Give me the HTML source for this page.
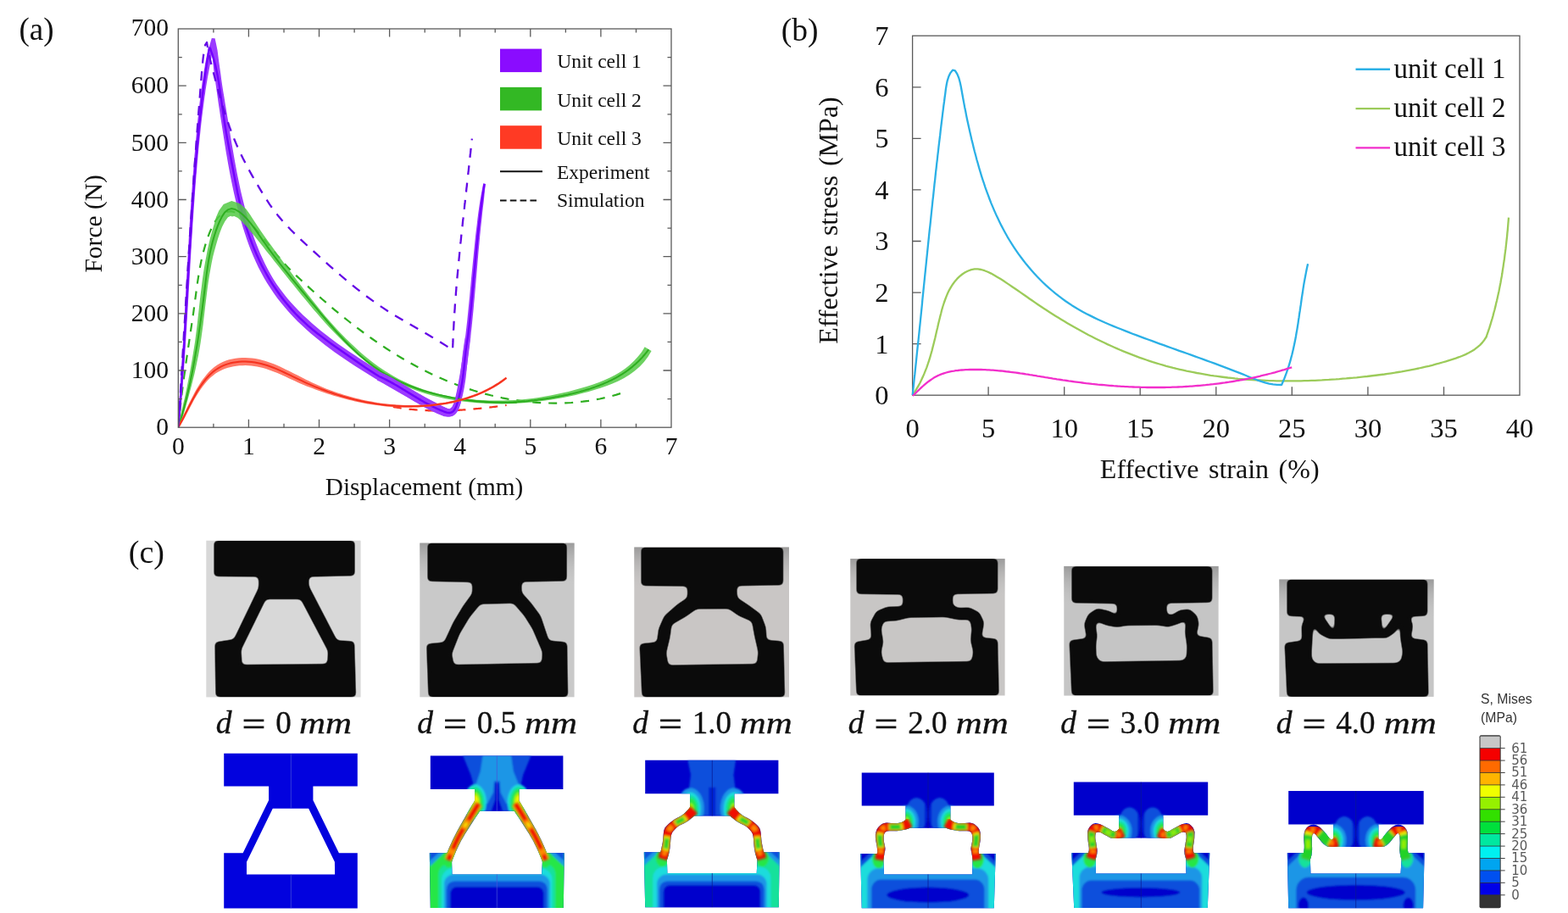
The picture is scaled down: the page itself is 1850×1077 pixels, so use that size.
<!DOCTYPE html>
<html lang="en"><head><meta charset="utf-8"><title>Figure</title>
<style>
html,body{margin:0;padding:0;background:#fff;}
body{width:1850px;height:1077px;overflow:hidden;font-family:"Liberation Serif",serif;}
svg{display:block;}
</style></head><body>
<svg width="1850" height="1077" viewBox="0 0 1850 1077">
<rect width="1850" height="1077" fill="#fff"/>
<clipPath id="clipA"><rect x="210.3" y="34.0" width="581.7" height="470.2"/></clipPath>
<g id="plotA" fill="none" stroke-linejoin="round" stroke-linecap="butt" clip-path="url(#clipA)">
<path d="M210.4 504.1L211.0 497.4L211.6 490.7L212.3 484.0L213.1 477.3L213.8 470.5L214.7 463.7L215.5 457.0L216.4 450.2L217.3 443.4L218.3 436.6L219.2 429.8L220.2 422.9L221.2 416.1L222.2 409.3L223.2 402.6L224.2 395.8L225.2 389.0L226.2 382.3L227.2 375.5L228.2 368.8L229.1 362.1L230.0 355.4L230.9 348.8L231.8 342.1L232.7 335.5L233.7 328.9L234.7 322.3L235.9 315.6L237.2 309.0L238.7 302.3L240.4 295.6L242.3 288.8L244.5 282.0L247.0 275.1L249.9 268.4L253.2 262.1L257.2 256.7L261.8 252.5L267.2 249.9L273.0 249.2L278.9 250.9L284.6 254.3L290.1 258.8L295.3 263.7L300.2 268.8L304.8 274.0L309.3 279.3L313.6 284.6L317.9 289.9L322.1 295.2L326.4 300.4L330.7 305.6L335.2 310.6L339.8 315.6L344.6 320.4L349.5 325.1L354.5 329.8L359.5 334.4L364.6 339.1L369.7 343.7L374.8 348.2L379.9 352.7L385.1 357.2L390.3 361.7L395.5 366.1L400.8 370.5L406.1 374.8L411.5 379.0L416.9 383.2L422.3 387.4L427.8 391.5L433.3 395.5L438.8 399.5L444.4 403.4L450.0 407.2L455.7 411.0L461.4 414.6L467.1 418.2L472.9 421.7L478.8 425.2L484.7 428.5L490.6 431.8L496.6 434.9L502.6 438.0L508.7 441.0L514.8 443.8L521.0 446.6L527.2 449.2L533.5 451.8L539.8 454.2L546.2 456.5L552.7 458.7L559.1 460.8L565.7 462.8L572.3 464.6L578.9 466.3L585.6 467.8L592.3 469.3L599.1 470.6L605.9 471.7L612.7 472.7L619.5 473.6L626.3 474.3L633.1 474.9L640.0 475.3L646.8 475.5L653.7 475.6L660.5 475.6L667.3 475.4L674.1 475.0L680.9 474.4L687.6 473.7L694.4 472.8L701.0 471.7L707.7 470.5L714.2 469.0L720.8 467.4L727.3 465.6L733.7 463.6" stroke="#2eae20" stroke-width="2.2" stroke-dasharray="10 9"/>
<path d="M463.8 479.9L464.9 480.1L466.0 480.3L467.1 480.5L468.2 480.7L469.4 480.8L470.5 481.0L471.6 481.2L472.7 481.4L473.8 481.5L475.0 481.7L476.1 481.8L477.2 482.0L478.3 482.1L479.4 482.3L480.6 482.4L481.7 482.5L482.8 482.7L483.9 482.8L485.0 482.9L486.2 483.0L487.3 483.1L488.4 483.2L489.5 483.3L490.7 483.4L491.8 483.5L492.9 483.6L494.0 483.7L495.2 483.7L496.3 483.8L497.4 483.9L498.5 484.0L499.7 484.0L500.8 484.1L501.9 484.1L503.0 484.2L504.2 484.2L505.3 484.3L506.4 484.3L507.5 484.3L508.7 484.4L509.8 484.4L510.9 484.4L512.1 484.4L513.2 484.4L514.3 484.5L515.4 484.5L516.6 484.5L517.7 484.5L518.8 484.5L519.9 484.5L521.1 484.5L522.2 484.4L523.3 484.4L524.5 484.4L525.6 484.4L526.7 484.4L527.8 484.3L529.0 484.3L530.1 484.3L531.2 484.2L532.4 484.2L533.5 484.1L534.6 484.1L535.7 484.1L536.9 484.0L538.0 483.9L539.1 483.9L540.3 483.8L541.4 483.8L542.5 483.7L543.6 483.6L544.8 483.6L545.9 483.5L547.0 483.4L548.1 483.3L549.3 483.3L550.4 483.2L551.5 483.1L552.7 483.0L553.8 482.9L554.9 482.8L556.0 482.7L557.2 482.6L558.3 482.5L559.4 482.4L560.5 482.3L561.7 482.2L562.8 482.1L563.9 482.0L565.0 481.9L566.2 481.8L567.3 481.7L568.4 481.6L569.5 481.4L570.7 481.3L571.8 481.2L572.9 481.1L574.0 481.0L575.2 480.8L576.3 480.7L577.4 480.6L578.5 480.4L579.6 480.3L580.8 480.2L581.9 480.0L583.0 479.9L584.1 479.8L585.2 479.6L586.4 479.5L587.5 479.4L588.6 479.2L589.7 479.1L590.8 478.9L592.0 478.8L593.1 478.6L594.2 478.5L595.3 478.3L596.4 478.2L597.6 478.0" stroke="#f5321e" stroke-width="2.2" stroke-dasharray="10 9"/>
<path d="M211.5 504.3L211.9 500.4L212.2 496.6L212.6 492.7L212.9 488.9L213.2 485.0L213.5 481.1L213.9 477.3L214.2 473.4L214.5 469.6L214.8 465.7L215.1 461.8L215.4 458.0L215.7 454.1L216.0 450.2L216.2 446.4L216.5 442.5L216.8 438.6L217.1 434.8L217.3 430.9L217.6 427.0L217.9 423.2L218.1 419.3L218.4 415.4L218.6 411.6L218.9 407.7L219.1 403.8L219.4 400.0L219.6 396.1L219.8 392.2L220.1 388.4L220.3 384.5L220.5 380.6L220.8 376.7L221.0 372.9L221.2 369.0L221.5 365.1L221.7 361.3L221.9 357.4L222.1 353.5L222.4 349.6L222.6 345.8L222.8 341.9L223.0 338.0L223.3 334.2L223.5 330.3L223.7 326.4L223.9 322.5L224.2 318.7L224.4 314.8L224.6 310.9L224.8 307.1L225.1 303.2L225.3 299.3L225.5 295.4L225.8 291.6L226.0 287.7L226.2 283.8L226.5 280.0L226.7 276.1L227.0 272.2L227.2 268.4L227.4 264.5L227.7 260.6L228.0 256.8L228.2 252.9L228.5 249.0L228.7 245.2L229.0 241.3L229.3 237.4L229.6 233.6L229.8 229.7L230.1 225.8L230.4 222.0L230.7 218.1L231.0 214.3L231.3 210.4L231.6 206.5L232.0 202.7L232.3 198.8L232.6 195.0L232.9 191.1L233.3 187.2L233.6 183.4L234.0 179.5L234.3 175.7L234.7 171.8L235.1 168.0L235.5 164.1L235.9 160.3L236.3 156.4L236.7 152.6L237.1 148.7L237.5 144.9L238.0 141.0L238.4 137.2L238.9 133.4L239.4 129.5L239.9 125.7L240.4 121.9L240.9 118.0L241.4 114.2L242.0 110.4L242.5 106.6L243.1 102.7L243.7 98.9L244.4 95.1L245.0 91.3L245.7 87.5L246.4 83.7L247.1 79.9L247.8 76.2L248.6 72.4L249.3 68.6L249.9 64.8L250.4 60.9L250.9 57.1L251.5 53.3L252.1 49.5L252.7 45.6L249.8 45.0L248.7 48.7L247.6 52.4L246.5 56.2L245.5 59.9L244.4 63.7L243.5 67.5L242.8 71.3L242.1 75.1L241.5 78.9L240.8 82.8L240.2 86.6L239.6 90.5L239.1 94.3L238.5 98.1L238.0 102.0L237.5 105.8L237.0 109.7L236.5 113.5L236.0 117.4L235.5 121.2L235.1 125.1L234.6 129.0L234.2 132.8L233.8 136.7L233.4 140.5L233.0 144.4L232.6 148.3L232.3 152.1L231.9 156.0L231.6 159.8L231.2 163.7L230.9 167.6L230.5 171.4L230.2 175.3L229.9 179.2L229.5 183.0L229.2 186.9L228.9 190.8L228.6 194.6L228.3 198.5L228.0 202.4L227.7 206.2L227.4 210.1L227.1 214.0L226.8 217.8L226.6 221.7L226.3 225.6L226.0 229.4L225.8 233.3L225.5 237.2L225.2 241.0L225.0 244.9L224.7 248.8L224.5 252.7L224.2 256.5L224.0 260.4L223.7 264.3L223.5 268.1L223.3 272.0L223.0 275.9L222.8 279.8L222.6 283.6L222.4 287.5L222.1 291.4L221.9 295.2L221.7 299.1L221.5 303.0L221.3 306.9L221.1 310.7L220.8 314.6L220.6 318.5L220.4 322.3L220.2 326.2L220.0 330.1L219.8 334.0L219.6 337.8L219.4 341.7L219.2 345.6L219.0 349.5L218.8 353.3L218.5 357.2L218.3 361.1L218.1 364.9L217.9 368.8L217.7 372.7L217.5 376.5L217.3 380.4L217.1 384.3L216.8 388.2L216.6 392.0L216.4 395.9L216.2 399.8L216.0 403.6L215.7 407.5L215.5 411.4L215.3 415.2L215.0 419.1L214.8 423.0L214.6 426.8L214.3 430.7L214.1 434.6L213.8 438.4L213.6 442.3L213.3 446.2L213.1 450.0L212.8 453.9L212.5 457.8L212.3 461.6L212.0 465.5L211.7 469.3L211.4 473.2L211.1 477.1L210.8 480.9L210.5 484.8L210.2 488.6L209.9 492.5L209.6 496.4L209.3 500.2L208.9 504.1Z" fill="#9b3bff" fill-opacity="1.00" stroke="none"/>
<path d="M250.6 45.5L250.2 52.6L250.1 59.7L250.6 66.8L251.3 73.9L252.0 80.9L252.9 87.9L253.9 94.9L254.9 101.9L255.9 108.9L256.9 115.9L257.9 122.9L259.0 129.9L260.0 136.9L261.1 143.8L262.2 150.8L263.3 157.8L264.4 164.7L265.5 171.7L266.6 178.7L267.8 185.6L269.0 192.6L270.3 199.5L271.6 206.5L273.0 213.4L274.4 220.3L275.9 227.3L277.5 234.2L279.1 241.1L280.9 248.0L282.7 254.8L284.7 261.7L286.7 268.5L288.9 275.3L291.1 282.1L293.6 288.9L296.1 295.6L298.9 302.2L301.8 308.8L304.8 315.2L308.1 321.6L311.6 327.9L315.2 334.1L319.1 340.1L323.1 346.1L327.4 351.9L331.8 357.6L336.4 363.1L341.1 368.5L346.0 373.7L351.0 378.9L356.2 383.8L361.5 388.7L366.8 393.4L372.3 398.0L377.9 402.5L383.5 406.9L389.2 411.2L394.9 415.4L400.7 419.5L406.6 423.6L412.5 427.5L418.5 431.4L424.5 435.2L430.5 439.0L436.5 442.7L442.5 446.4L448.6 450.0L454.7 453.7L460.7 457.2L466.8 460.8L472.9 464.3L479.1 467.8L485.2 471.3L491.4 474.7L497.6 478.1L503.9 481.4L510.2 484.7L516.6 488.0L524.1 491.2L533.4 491.1L540.4 484.4L543.3 476.5L544.7 469.3L546.0 462.3L547.3 455.3L548.4 448.3L549.5 441.3L550.6 434.3L551.6 427.3L552.5 420.3L553.4 413.3L554.3 406.3L555.1 399.3L555.8 392.3L556.6 385.3L557.3 378.2L558.0 371.2L558.7 364.2L559.3 357.2L560.0 350.1L560.6 343.1L561.2 336.1L561.8 329.0L562.4 322.0L563.0 315.0L563.6 308.0L564.2 301.0L564.8 293.9L565.5 286.9L566.1 279.9L566.8 272.9L567.5 265.9L568.3 258.9L569.0 251.9L569.8 244.9L570.7 237.9L571.4 231.0L572.1 224.0L572.9 216.9L570.2 216.5L568.8 223.4L567.5 230.4L566.3 237.4L565.3 244.3L564.3 251.3L563.4 258.3L562.6 265.4L561.7 272.4L560.9 279.4L560.2 286.4L559.5 293.4L558.8 300.4L558.1 307.5L557.4 314.5L556.7 321.5L556.0 328.5L555.4 335.6L554.7 342.6L554.1 349.6L553.4 356.6L552.7 363.6L552.0 370.6L551.3 377.6L550.5 384.6L549.7 391.6L548.9 398.6L548.0 405.5L547.0 412.5L546.1 419.4L545.0 426.4L543.9 433.3L542.8 440.2L541.6 447.1L540.3 454.0L539.0 460.9L537.5 467.8L536.0 474.3L533.6 479.8L530.3 482.6L526.7 481.6L521.1 478.8L515.0 475.5L508.8 472.2L502.6 468.9L496.4 465.6L490.3 462.2L484.2 458.7L478.1 455.3L472.0 451.8L466.0 448.3L460.0 444.7L453.9 441.1L447.9 437.5L441.9 433.8L436.0 430.2L430.0 426.4L424.1 422.7L418.2 418.8L412.4 415.0L406.6 411.0L400.8 407.1L395.2 403.0L389.6 398.8L384.1 394.6L378.6 390.3L373.3 385.8L368.0 381.3L362.9 376.6L357.9 371.9L352.9 367.0L348.1 362.0L343.5 356.9L338.9 351.7L334.6 346.3L330.4 340.8L326.4 335.2L322.7 329.5L319.2 323.5L315.9 317.5L312.7 311.3L309.8 305.1L306.9 298.7L304.3 292.3L301.7 285.8L299.3 279.3L297.1 272.6L294.9 266.0L292.9 259.3L291.0 252.5L289.1 245.8L287.4 239.0L285.7 232.2L284.1 225.4L282.6 218.6L281.2 211.7L279.8 204.9L278.5 198.0L277.2 191.1L276.0 184.2L274.8 177.3L273.6 170.4L272.4 163.4L271.3 156.5L270.2 149.5L269.1 142.6L267.9 135.6L266.8 128.7L265.6 121.7L264.5 114.8L263.3 107.8L262.2 100.8L261.2 93.9L260.3 86.9L259.3 80.0L258.3 73.0L257.4 66.1L256.5 59.1L255.1 52.2L253.6 45.3Z" fill="#9b3bff" fill-opacity="1.00" stroke="none"/>
<path d="M210.3 504.2L210.6 500.4L210.9 496.7L211.2 492.9L211.5 489.2L211.8 485.4L212.1 481.6L212.4 477.9L212.7 474.1L212.9 470.3L213.2 466.6L213.5 462.8L213.8 459.1L214.0 455.3L214.3 451.5L214.5 447.8L214.8 444.0L215.1 440.2L215.3 436.5L215.6 432.7L215.8 428.9L216.0 425.2L216.3 421.4L216.5 417.6L216.8 413.9L217.0 410.1L217.2 406.3L217.5 402.6L217.7 398.8L217.9 395.0L218.1 391.2L218.4 387.5L218.6 383.7L218.8 379.9L219.0 376.2L219.3 372.4L219.5 368.6L219.7 364.9L219.9 361.1L220.1 357.3L220.3 353.5L220.6 349.8L220.8 346.0L221.0 342.2L221.2 338.5L221.4 334.7L221.7 330.9L221.9 327.2L222.1 323.4L222.3 319.6L222.5 315.8L222.8 312.1L223.0 308.3L223.2 304.5L223.4 300.8L223.7 297.0L223.9 293.2L224.1 289.5L224.3 285.7L224.6 281.9L224.8 278.2L225.1 274.4L225.3 270.6L225.5 266.8L225.8 263.1L226.0 259.3L226.3 255.5L226.5 251.8L226.8 248.0L227.0 244.2L227.3 240.5L227.6 236.7L227.8 232.9L228.1 229.2L228.4 225.4L228.7 221.6L228.9 217.9L229.2 214.1L229.5 210.4L229.8 206.6L230.1 202.8L230.4 199.1L230.7 195.3L231.0 191.5L231.4 187.8L231.7 184.0L232.0 180.3L232.3 176.5L232.7 172.7L233.0 169.0L233.4 165.2L233.7 161.5L234.1 157.7L234.4 154.0L234.8 150.2L235.2 146.5L235.6 142.7L236.0 138.9L236.4 135.2L236.8 131.4L237.2 127.7L237.6 123.9L238.0 120.2L238.5 116.4L238.9 112.7L239.4 109.0L239.9 105.2L240.3 101.5L240.8 97.7L241.3 94.0L241.8 90.3L242.3 86.5L242.8 82.8L243.4 79.0L243.9 75.3L244.5 71.6L245.1 67.9L245.6 64.1L246.2 60.4L246.8 56.7L247.9 56.7L250.2 63.3L252.2 69.9L254.0 76.6L255.5 83.4L256.9 90.2L258.1 97.0L259.1 103.9L260.1 110.8L261.1 117.7L262.0 124.6L263.0 131.5L264.0 138.4L265.0 145.3L266.2 152.2L267.3 159.1L268.6 165.9L269.8 172.8L271.1 179.6L272.4 186.5L273.7 193.3L275.0 200.1L276.3 207.0L277.6 213.8L279.0 220.6L280.3 227.4L281.8 234.2L283.3 241.0L284.9 247.7L286.6 254.4L288.5 261.1L290.5 267.8L292.7 274.4L295.0 281.0L297.5 287.6L300.1 294.1L302.9 300.5L305.8 306.8L308.9 313.1L312.2 319.3L315.6 325.4L319.1 331.4L322.9 337.3L326.8 343.0L330.8 348.7L335.0 354.2L339.4 359.6L343.9 364.9L348.6 370.0L353.4 374.9L358.5 379.7L363.6 384.3L368.9 388.8L374.3 393.2L379.9 397.4L385.5 401.6L391.1 405.7L396.8 409.7L402.6 413.8L408.3 417.8L414.1 421.8L419.8 425.8L425.6 429.7L431.3 433.7L437.1 437.5L442.9 441.3L448.8 444.9L454.8 448.4L460.8 451.8L466.9 455.0L473.0 458.3L479.1 461.5L485.3 464.8L491.4 468.0L497.6 471.4L503.7 474.8L509.8 478.4L515.9 482.1L522.1 485.5L528.6 487.1L534.6 484.7L538.5 479.2L540.3 472.5L541.7 465.6L543.0 458.8L544.3 451.9L545.5 445.0L546.6 438.1L547.7 431.2L548.7 424.3L549.6 417.4L550.5 410.5L551.4 403.6L552.2 396.7L553.0 389.7L553.8 382.8L554.5 375.9L555.2 369.0L555.9 362.0L556.5 355.1L557.2 348.2L557.8 341.3L558.4 334.3L559.0 327.4L559.7 320.5L560.3 313.6L560.9 306.6L561.6 299.7L562.2 292.8L562.9 285.8L563.6 278.9L564.3 272.0L565.1 265.1L565.9 258.2L566.7 251.2L567.6 244.3L568.5 237.4L569.5 230.5L570.5 223.6L571.6 216.7" stroke="#7200ff" stroke-width="2.4"/>
<path d="M211.7 504.5L213.9 497.6L216.0 490.7L218.1 483.6L220.1 476.6L222.1 469.5L224.0 462.3L225.9 455.2L227.7 448.0L229.5 440.8L231.1 433.5L232.6 426.2L234.1 418.9L235.4 411.7L236.6 404.4L237.7 397.1L238.7 389.8L239.7 382.6L240.5 375.3L241.4 368.1L242.2 360.9L243.1 353.7L244.0 346.5L244.9 339.3L245.9 332.1L247.0 324.9L248.3 317.7L249.6 310.5L251.1 303.3L252.9 296.2L254.9 289.0L257.0 281.8L259.4 274.6L262.1 267.4L265.5 261.0L269.0 256.2L272.2 254.7L273.6 255.5L276.4 255.1L280.6 257.1L285.6 261.4L290.7 267.1L295.6 273.0L300.5 278.8L305.3 284.7L309.9 290.5L314.5 296.4L319.1 302.1L323.6 307.9L328.1 313.6L332.6 319.3L337.2 325.0L341.7 330.7L346.3 336.3L350.9 342.0L355.5 347.7L360.2 353.3L364.9 359.0L369.6 364.7L374.5 370.3L379.4 375.9L384.3 381.4L389.3 386.9L394.4 392.3L399.6 397.6L404.8 402.8L410.2 408.0L415.6 413.0L421.1 417.9L426.7 422.6L432.4 427.2L438.3 431.6L444.2 435.9L450.3 440.0L456.5 443.8L462.8 447.5L469.3 451.0L475.9 454.2L482.6 457.2L489.5 459.9L496.5 462.4L503.6 464.7L510.7 466.7L518.0 468.5L525.4 470.2L532.8 471.5L540.2 472.7L547.7 473.8L555.1 474.6L562.6 475.3L570.1 475.8L577.6 476.1L585.0 476.3L592.3 476.4L599.7 476.2L607.0 476.0L614.3 475.6L621.5 475.0L628.7 474.4L635.9 473.5L643.2 472.6L650.4 471.5L657.6 470.3L664.8 469.0L672.0 467.5L679.3 465.9L686.5 464.1L693.8 462.2L701.1 460.1L708.4 457.8L715.6 455.3L722.7 452.5L729.6 449.4L736.3 445.9L742.8 442.0L748.9 437.6L754.7 432.6L759.9 426.9L764.6 420.7L768.6 414.0L760.7 409.2L756.9 415.4L752.6 420.8L748.0 425.8L743.0 430.4L737.7 434.7L731.9 438.7L725.9 442.3L719.5 445.6L712.9 448.6L706.1 451.3L699.1 453.8L692.0 456.0L684.9 458.1L677.8 460.1L670.7 461.9L663.6 463.6L656.6 465.1L649.5 466.6L642.4 467.8L635.3 469.0L628.2 470.0L621.1 470.8L614.0 471.5L606.8 472.0L599.6 472.3L592.3 472.5L585.0 472.5L577.7 472.4L570.3 472.1L562.9 471.7L555.5 471.0L548.1 470.2L540.7 469.2L533.4 468.0L526.1 466.5L518.9 464.9L511.7 463.1L504.7 461.0L497.7 458.7L490.9 456.3L484.1 453.5L477.6 450.6L471.1 447.4L464.8 444.0L458.6 440.3L452.6 436.5L446.6 432.4L440.8 428.2L435.1 423.8L429.5 419.2L424.0 414.5L418.7 409.6L413.4 404.6L408.2 399.5L403.1 394.2L398.0 388.9L393.1 383.5L388.2 378.0L383.4 372.4L378.7 366.7L374.1 361.0L369.5 355.3L364.9 349.5L360.4 343.7L356.0 338.0L351.5 332.2L347.2 326.4L342.8 320.6L338.5 314.8L334.1 309.0L329.8 303.1L325.5 297.2L321.2 291.3L316.8 285.3L312.5 279.2L308.1 273.1L303.9 266.8L299.6 260.3L295.3 253.6L290.3 246.5L283.2 240.3L273.3 236.9L263.7 241.1L258.3 248.4L255.0 256.1L252.8 264.1L250.5 271.8L248.4 279.3L246.6 286.8L244.9 294.3L243.5 301.7L242.1 309.1L240.8 316.5L239.7 323.8L238.7 331.1L237.8 338.4L236.9 345.6L236.0 352.8L235.2 360.1L234.4 367.3L233.6 374.5L232.8 381.7L231.9 388.9L231.0 396.1L230.0 403.4L228.9 410.6L227.7 417.8L226.5 425.1L225.2 432.3L223.9 439.6L222.5 446.8L221.1 454.1L219.6 461.3L218.1 468.5L216.4 475.6L214.7 482.7L213.0 489.8L211.2 496.8L209.4 503.8Z" fill="#52c944" fill-opacity="0.85" stroke="none"/>
<path d="M210.4 504.1L212.2 498.6L213.8 493.0L215.4 487.3L217.0 481.7L218.4 476.0L219.9 470.3L221.3 464.6L222.6 458.8L223.9 453.1L225.1 447.3L226.3 441.5L227.4 435.7L228.5 429.9L229.6 424.1L230.6 418.2L231.6 412.4L232.6 406.6L233.5 400.7L234.4 394.9L235.2 389.0L236.1 383.2L236.9 377.3L237.7 371.5L238.5 365.7L239.2 359.8L240.0 354.0L240.7 348.2L241.4 342.4L242.1 336.7L242.8 330.9L243.5 325.2L244.3 319.4L245.1 313.7L246.0 307.9L247.0 302.1L248.2 296.3L249.5 290.5L251.0 284.6L252.7 278.7L254.6 272.7L256.8 266.7L259.3 260.7L262.1 255.1L265.2 250.5L268.8 247.4L272.9 246.1L277.4 247.0L282.2 249.8L287.0 253.7L291.5 258.4L295.7 263.3L299.4 268.2L302.9 273.1L306.2 278.0L309.5 282.8L312.9 287.5L316.3 292.3L319.7 297.0L323.2 301.7L326.8 306.3L330.3 311.0L333.9 315.6L337.6 320.2L341.2 324.7L344.9 329.3L348.6 333.9L352.3 338.4L356.1 343.0L359.9 347.5L363.6 352.1L367.4 356.6L371.2 361.2L375.0 365.7L378.8 370.3L382.7 374.9L386.5 379.4L390.4 383.9L394.3 388.4L398.3 392.8L402.3 397.2L406.3 401.5L410.4 405.7L414.6 409.9L418.8 413.9L423.1 417.9L427.5 421.7L432.0 425.5L436.6 429.1L441.3 432.5L446.1 435.8L450.9 439.0L455.9 442.0L461.0 444.8L466.2 447.5L471.5 450.1L476.9 452.5L482.3 454.7L487.8 456.8L493.4 458.8L499.0 460.7L504.7 462.4L510.5 464.0L516.3 465.4L522.1 466.8L527.9 468.0L533.8 469.2L539.7 470.2L545.6 471.1L551.5 471.9L557.4 472.6L563.3 473.2L569.2 473.7L575.1 474.1L581.0 474.4L586.8 474.6L592.6 474.8L598.3 474.9L604.0 474.9L609.7 474.8" stroke="#2eae20" stroke-width="2.0"/>
<path d="M444.8 448.6L446.2 449.2L447.6 449.8L449.0 450.5L450.4 451.2L451.8 451.8L453.2 452.5L454.5 453.2L455.9 454.0L457.3 454.7L458.7 455.4L460.0 456.2L461.4 456.9L462.8 457.7L464.1 458.5L465.5 459.3L466.8 460.1L468.2 460.9L469.6 461.7L470.9 462.5L472.3 463.3L473.6 464.2L475.0 465.0L476.3 465.8L477.7 466.7L479.1 467.5L480.4 468.3L481.8 469.2L483.2 470.0L484.5 470.9L485.9 471.7L487.3 472.5L488.7 473.4L490.1 474.2L491.5 475.0L492.9 475.8L494.3 476.7L495.7 477.5L497.1 478.3L498.5 479.1L499.9 479.9L501.3 480.7L502.8 481.4L504.2 482.2L505.7 483.0L507.1 483.7L508.6 484.5L510.1 485.2L511.6 485.9L513.1 486.6L514.6 487.2L516.1 487.9L517.7 488.5L519.2 489.1L520.8 489.7L522.4 490.3L524.0 490.8L525.9 491.3L527.9 491.7L530.2 491.7L532.4 491.3L534.6 490.5L536.5 489.3L538.1 487.8L539.3 486.1L540.3 484.4L541.2 482.5L541.9 480.7L542.6 478.8L543.1 476.9L543.6 475.0L544.1 473.2L544.6 471.4L545.0 469.6L545.5 467.9L545.9 466.2L546.3 464.6L546.6 462.9L547.0 461.3L547.3 459.7L547.6 458.1L547.9 456.5L548.1 454.9L548.4 453.4L548.6 451.9L548.9 450.4L549.1 448.9L549.3 447.4L549.5 445.9L549.7 444.4L549.8 443.0L550.0 441.5L550.2 440.1L550.3 438.6L550.5 437.2L550.6 435.7L550.7 434.3L550.9 432.8L551.0 431.4L551.2 429.9L551.3 428.4L551.4 427.0L551.6 425.5L551.7 424.0L551.9 422.5L552.0 421.0L552.2 419.4L552.4 417.9L552.5 416.3L552.7 414.7L552.9 413.1L553.1 411.5L553.3 409.9L553.5 408.2L553.8 406.5L554.0 404.8L554.3 403.0L554.6 401.2L554.9 399.4L555.2 397.5L549.1 396.4L548.8 398.3L548.4 400.2L548.1 402.0L547.8 403.8L547.5 405.5L547.3 407.3L547.0 409.0L546.8 410.7L546.6 412.3L546.3 413.9L546.1 415.6L545.9 417.1L545.7 418.7L545.5 420.3L545.4 421.8L545.2 423.3L545.0 424.8L544.9 426.3L544.7 427.8L544.5 429.2L544.4 430.7L544.2 432.1L544.1 433.6L543.9 435.0L543.7 436.4L543.6 437.9L543.4 439.3L543.2 440.7L543.0 442.1L542.8 443.5L542.6 445.0L542.4 446.4L542.2 447.8L542.0 449.3L541.7 450.7L541.4 452.2L541.2 453.7L540.9 455.2L540.6 456.7L540.3 458.2L539.9 459.8L539.6 461.3L539.2 462.9L538.8 464.5L538.4 466.1L537.9 467.8L537.5 469.5L537.0 471.2L536.5 472.9L535.9 474.6L535.3 476.2L534.6 477.7L534.0 479.1L533.3 480.3L532.6 481.2L531.9 481.9L531.4 482.2L530.9 482.4L530.5 482.4L530.0 482.3L529.3 482.2L528.4 481.9L527.2 481.4L525.9 480.9L524.5 480.3L523.0 479.7L521.6 479.1L520.2 478.5L518.8 477.8L517.4 477.2L516.0 476.5L514.6 475.8L513.2 475.1L511.8 474.4L510.5 473.7L509.1 473.0L507.7 472.3L506.3 471.5L504.9 470.8L503.6 470.0L502.2 469.3L500.8 468.5L499.5 467.7L498.1 466.9L496.8 466.1L495.4 465.3L494.0 464.5L492.7 463.6L491.3 462.8L490.0 462.0L488.6 461.1L487.2 460.3L485.9 459.5L484.5 458.6L483.1 457.8L481.8 457.0L480.4 456.1L479.0 455.3L477.7 454.4L476.3 453.6L474.9 452.8L473.5 451.9L472.1 451.1L470.7 450.3L469.3 449.5L467.9 448.7L466.5 447.9L465.1 447.1L463.6 446.3L462.2 445.5L460.8 444.8L459.3 444.0L457.9 443.3L456.4 442.5L454.9 441.8L453.5 441.1L452.0 440.4L450.5 439.7L449.0 439.1Z" fill="#9b3bff" fill-opacity="1.00" stroke="none"/>
<path d="M446.9 443.8L448.3 444.5L449.8 445.1L451.2 445.8L452.7 446.5L454.1 447.2L455.5 447.9L456.9 448.6L458.3 449.4L459.8 450.1L461.2 450.9L462.5 451.6L463.9 452.4L465.3 453.2L466.7 454.0L468.1 454.8L469.5 455.6L470.8 456.4L472.2 457.2L473.6 458.1L475.0 458.9L476.3 459.7L477.7 460.5L479.1 461.4L480.4 462.2L481.8 463.1L483.2 463.9L484.5 464.7L485.9 465.6L487.3 466.4L488.6 467.2L490.0 468.1L491.4 468.9L492.7 469.7L494.1 470.6L495.5 471.4L496.9 472.2L498.3 473.0L499.6 473.8L501.0 474.6L502.4 475.3L503.8 476.1L505.2 476.9L506.7 477.6L508.1 478.4L509.5 479.1L510.9 479.8L512.4 480.5L513.8 481.2L515.3 481.9L516.7 482.5L518.2 483.2L519.6 483.8L521.1 484.4L522.6 485.0L524.1 485.6L525.6 486.1L527.1 486.6L528.6 486.9L530.1 487.0L531.4 486.9L532.7 486.4L533.9 485.8L535.0 484.8L535.9 483.7L536.8 482.3L537.6 480.8L538.3 479.2L538.9 477.5L539.5 475.7L540.0 473.9L540.5 472.2L541.0 470.4L541.5 468.7L541.9 467.0L542.3 465.4L542.7 463.7L543.1 462.1L543.4 460.5L543.8 458.9L544.1 457.4L544.4 455.8L544.7 454.3L544.9 452.8L545.2 451.3L545.4 449.8L545.6 448.4L545.8 446.9L546.1 445.4L546.2 444.0L546.4 442.5L546.6 441.1L546.8 439.7L546.9 438.2L547.1 436.8L547.3 435.4L547.4 433.9L547.6 432.5L547.7 431.0L547.9 429.6L548.0 428.1L548.2 426.6L548.3 425.1L548.5 423.6L548.6 422.1L548.8 420.6L549.0 419.1L549.1 417.5L549.3 415.9L549.5 414.3L549.7 412.7L549.9 411.1L550.2 409.4L550.4 407.7L550.7 406.0L550.9 404.3L551.2 402.5L551.5 400.7L551.8 398.9L552.2 397.0" stroke="#7200ff" stroke-width="2.4"/>
<path d="M540.4 470.3L542.4 470.7L544.4 471.0L546.3 471.4L548.3 471.7L550.3 472.0L552.3 472.3L554.3 472.5L556.3 472.8L558.3 473.0L560.3 473.2L562.4 473.4L564.4 473.6L566.4 473.8L568.4 474.0L570.4 474.1L572.4 474.2L574.4 474.4L576.5 474.5L578.5 474.6L580.5 474.6L582.5 474.7L584.6 474.7L586.6 474.8L588.6 474.8L590.6 474.8L592.7 474.8L594.7 474.7L596.7 474.7L598.8 474.7L600.8 474.6L602.8 474.5L604.9 474.4L606.9 474.3L609.0 474.2L611.0 474.1L613.0 473.9L615.1 473.8L617.1 473.6L619.1 473.4L621.2 473.3L623.2 473.1L625.3 472.8L627.3 472.6L629.3 472.4L631.4 472.1L633.4 471.9L635.5 471.6L637.5 471.3L639.5 471.0L641.6 470.7L643.6 470.4L645.7 470.1L647.7 469.8L649.7 469.4L651.8 469.1L653.8 468.7L655.8 468.3L657.9 468.0L659.9 467.6L661.9 467.2L664.0 466.8L666.0 466.3L668.0 465.9L670.1 465.5L672.1 465.0L674.1 464.6L676.1 464.1L678.1 463.6L680.1 463.1L682.1 462.6L684.1 462.1L686.1 461.5L688.1 461.0L690.1 460.4L692.0 459.8L694.0 459.2L696.0 458.6L697.9 457.9L699.8 457.3L701.8 456.6L703.7 455.9L705.6 455.2L707.5 454.5L709.4 453.7L711.3 453.0L713.1 452.2L715.0 451.4L716.8 450.6L718.6 449.7L720.5 448.8L722.3 448.0L724.0 447.0L725.8 446.1L727.6 445.1L729.3 444.2L731.0 443.1L732.7 442.1L734.4 441.1L736.1 440.0L737.8 438.9L739.4 437.7L741.0 436.6L742.6 435.4L744.2 434.1L745.8 432.9L747.3 431.6L748.8 430.3L750.3 429.0L751.8 427.6L753.2 426.2L754.7 424.8L756.1 423.3L757.5 421.9L758.8 420.3L760.2 418.8L761.5 417.2L762.8 415.6L764.1 413.9L765.3 412.3" stroke="#2eae20" stroke-width="2.0"/>
<path d="M211.3 504.4L213.1 501.6L214.8 498.6L216.5 495.5L218.2 492.3L219.9 489.0L221.6 485.7L223.4 482.3L225.1 478.9L227.0 475.5L228.8 472.1L230.7 468.7L232.7 465.4L234.8 462.2L236.9 459.0L239.1 455.9L241.4 453.0L243.7 450.2L246.2 447.6L248.8 445.1L251.4 442.9L254.1 440.8L256.9 439.0L259.8 437.4L262.8 435.9L265.9 434.7L269.0 433.7L272.3 432.9L275.6 432.2L279.0 431.7L282.5 431.3L286.0 431.2L289.5 431.1L293.0 431.2L296.5 431.5L300.0 432.0L303.5 432.6L306.9 433.3L310.3 434.1L313.7 435.1L317.1 436.2L320.5 437.5L323.9 438.7L327.3 440.1L330.7 441.6L334.0 443.1L337.4 444.6L340.8 446.2L344.2 447.7L347.6 449.3L351.1 450.9L354.5 452.5L358.1 454.0L361.6 455.4L365.1 456.8L368.7 458.1L372.2 459.4L375.8 460.7L379.3 461.9L382.9 463.2L386.5 464.4L390.0 465.6L393.6 466.7L397.2 467.8L400.8 468.8L404.4 469.8L408.0 470.8L411.7 471.7L415.3 472.6L418.9 473.5L422.6 474.3L426.2 475.0L429.9 475.7L433.6 476.4L437.2 477.0L440.9 477.6L444.6 478.1L448.3 478.6L452.0 479.0L455.6 479.4L459.3 479.7L463.0 480.0L466.8 480.3L470.5 480.5L474.2 480.6L477.9 480.7L481.6 480.7L485.3 480.7L489.0 480.6L492.8 480.5L496.5 480.3L500.2 480.1L504.0 479.8L507.7 479.5L511.4 479.1L515.1 478.6L518.9 478.1L522.6 477.6L526.3 476.9L530.0 476.3L533.7 475.5L537.4 474.7L541.1 473.8L544.7 472.8L548.3 471.8L551.9 470.7L555.5 469.5L559.1 468.3L562.6 467.0L566.0 465.6L569.5 464.1L572.9 462.5L576.2 460.8L579.5 459.1L582.8 457.3L586.0 455.4L589.2 453.3L592.3 451.2L595.3 449.0L598.2 446.8L596.7 444.7L593.7 447.0L590.8 449.1L587.7 451.2L584.6 453.1L581.5 455.0L578.3 456.8L575.1 458.5L571.8 460.1L568.4 461.7L565.0 463.2L561.6 464.5L558.2 465.8L554.7 467.1L551.2 468.2L547.6 469.3L544.0 470.3L540.4 471.3L536.8 472.2L533.2 473.0L529.5 473.7L525.9 474.4L522.2 475.0L518.5 475.6L514.8 476.1L511.1 476.5L507.4 476.9L503.7 477.2L500.0 477.4L496.4 477.6L492.7 477.8L489.0 477.9L485.3 477.9L481.6 477.9L477.9 477.9L474.3 477.7L470.6 477.5L466.9 477.3L463.3 477.0L459.6 476.7L456.0 476.3L452.3 475.9L448.7 475.4L445.1 474.9L441.4 474.3L437.8 473.6L434.2 472.9L430.6 472.2L427.0 471.4L423.4 470.6L419.8 469.7L416.3 468.8L412.7 467.8L409.2 466.8L405.6 465.7L402.1 464.6L398.6 463.4L395.1 462.2L391.6 461.0L388.1 459.7L384.6 458.4L381.2 457.1L377.8 455.6L374.4 454.1L371.0 452.5L367.6 451.0L364.2 449.3L360.9 447.7L357.6 446.0L354.2 444.3L350.9 442.6L347.5 440.9L344.2 439.2L340.8 437.5L337.4 435.9L334.0 434.2L330.5 432.6L327.1 431.1L323.6 429.6L320.0 428.2L316.4 426.9L312.7 425.8L309.0 424.7L305.2 423.8L301.4 423.1L297.5 422.5L293.6 422.2L289.6 422.0L285.7 422.0L281.7 422.2L277.8 422.7L273.9 423.4L270.1 424.3L266.4 425.6L262.7 427.1L259.3 428.8L255.9 430.8L252.8 433.0L249.9 435.5L247.1 438.1L244.5 440.9L242.1 443.9L239.7 446.9L237.5 450.1L235.3 453.4L233.3 456.7L231.3 460.1L229.4 463.5L227.6 467.0L225.8 470.5L224.0 474.0L222.3 477.5L220.6 480.9L219.0 484.4L217.4 487.7L215.7 491.0L214.1 494.3L212.5 497.4L210.9 500.3L209.3 503.2Z" fill="#ff6a58" fill-opacity="0.90" stroke="none"/>
<path d="M210.3 503.8L212.0 501.0L213.6 498.0L215.3 494.9L217.0 491.7L218.6 488.4L220.3 485.0L222.0 481.6L223.7 478.2L225.5 474.7L227.3 471.3L229.2 467.9L231.1 464.5L233.0 461.1L235.1 457.8L237.2 454.7L239.4 451.6L241.7 448.6L244.1 445.7L246.6 443.0L249.3 440.5L252.0 438.1L254.9 436.0L257.9 434.1L261.0 432.4L264.3 430.9L267.7 429.6L271.2 428.6L274.8 427.8L278.4 427.2L282.1 426.8L285.8 426.6L289.6 426.5L293.3 426.7L297.0 427.0L300.7 427.5L304.4 428.2L308.0 429.0L311.5 430.0L315.1 431.0L318.6 432.2L322.0 433.5L325.5 434.9L328.9 436.4L332.3 437.9L335.7 439.5L339.1 441.1L342.5 442.7L345.9 444.3L349.3 446.0L352.7 447.6L356.1 449.2L359.5 450.8L362.9 452.4L366.4 453.9L369.8 455.3L373.3 456.8L376.8 458.1L380.3 459.5L383.8 460.8L387.3 462.1L390.8 463.3L394.3 464.5L397.9 465.6L401.5 466.7L405.0 467.8L408.6 468.8L412.2 469.8L415.8 470.7L419.4 471.6L423.0 472.4L426.6 473.2L430.2 474.0L433.9 474.7L437.5 475.3L441.2 475.9L444.8 476.5L448.5 477.0L452.1 477.4L455.8 477.9L459.5 478.2L463.2 478.5L466.8 478.8L470.5 479.0L474.2 479.2L477.9 479.3L481.6 479.3L485.3 479.3L489.0 479.3L492.7 479.2L496.4 479.0L500.1 478.8L503.8 478.5L507.6 478.2L511.3 477.8L515.0 477.3L518.7 476.8L522.4 476.3L526.1 475.7L529.8 475.0L533.4 474.2L537.1 473.4L540.7 472.5L544.4 471.6L548.0 470.6L551.6 469.5L555.1 468.3L558.6 467.1L562.1 465.8L565.5 464.4L569.0 462.9L572.3 461.3L575.6 459.7L578.9 458.0L582.2 456.1L585.3 454.2L588.4 452.3L591.5 450.2L594.5 448.0L597.5 445.7" stroke="#f5321e" stroke-width="2.0"/>
<path d="M210.3 504.2L210.8 496.3L211.3 488.4L211.8 480.5L212.3 472.5L212.8 464.6L213.2 456.7L213.7 448.8L214.2 440.9L214.7 433.0L215.1 425.1L215.6 417.1L216.1 409.2L216.6 401.3L217.0 393.4L217.5 385.5L218.0 377.5L218.5 369.6L218.9 361.7L219.4 353.8L219.9 345.9L220.4 338.0L220.9 330.0L221.3 322.1L221.8 314.2L222.3 306.3L222.8 298.4L223.3 290.5L223.8 282.6L224.3 274.6L224.8 266.7L225.3 258.8L225.9 250.9L226.4 243.0L226.9 235.1L227.4 227.2L228.0 219.3L228.5 211.4L229.1 203.4L229.6 195.5L230.2 187.6L230.8 179.7L231.4 171.8L231.9 163.9L232.5 156.0L233.1 148.1L233.7 140.2L234.3 132.3L235.0 124.4L235.6 116.5L236.2 108.6L236.8 100.6L237.5 92.7L238.1 84.8L238.8 76.9L239.6 69.0L240.6 60.9L242.2 52.8L244.0 50.0L245.4 58.1L247.1 66.4L248.9 74.2L250.8 81.7L252.8 89.2L254.7 96.8L256.8 104.4L258.9 112.0L261.1 119.7L263.4 127.3L265.7 134.9L268.3 142.5L270.9 150.0L273.7 157.5L276.6 164.8L279.7 172.1L283.0 179.3L286.5 186.5L290.1 193.5L293.8 200.5L297.6 207.4L301.6 214.3L305.6 221.1L309.7 227.9L313.9 234.6L318.3 241.3L322.9 247.7L327.7 253.9L332.8 260.0L338.1 265.8L343.5 271.5L349.1 277.1L354.9 282.6L360.7 288.0L366.5 293.4L372.4 298.7L378.3 304.0L384.2 309.3L390.1 314.6L396.1 319.8L402.1 325.0L408.1 330.1L414.2 335.1L420.3 340.1L426.5 345.0L432.8 349.8L439.2 354.4L445.7 359.0L452.2 363.4L458.9 367.8L465.6 371.9L472.5 376.0L479.4 380.1L486.3 384.1L493.2 388.0L500.1 392.0L507.0 396.0L513.8 400.1L520.6 404.2L527.2 408.4L533.7 412.8L534.1 412.9L534.1 410.8L534.2 408.7L534.3 406.6L534.4 404.5L534.5 402.4L534.5 400.3L534.6 398.1L534.7 396.0L534.8 393.9L534.9 391.8L535.0 389.7L535.2 387.6L535.3 385.5L535.4 383.4L535.5 381.3L535.6 379.2L535.7 377.1L535.9 375.0L536.0 372.9L536.1 370.8L536.3 368.7L536.4 366.6L536.6 364.5L536.7 362.4L536.8 360.3L537.0 358.3L537.1 356.2L537.3 354.1L537.5 352.0L537.6 349.9L537.8 347.8L537.9 345.7L538.1 343.6L538.3 341.5L538.4 339.4L538.6 337.3L538.8 335.2L539.0 333.1L539.2 331.0L539.3 328.9L539.5 326.8L539.7 324.7L539.9 322.6L540.1 320.5L540.3 318.4L540.5 316.3L540.7 314.2L540.9 312.1L541.1 310.1L541.3 308.0L541.5 305.9L541.7 303.8L541.9 301.7L542.1 299.6L542.3 297.5L542.5 295.4L542.7 293.3L542.9 291.2L543.1 289.1L543.3 287.0L543.6 284.9L543.8 282.8L544.0 280.8L544.2 278.7L544.4 276.6L544.7 274.5L544.9 272.4L545.1 270.3L545.3 268.2L545.6 266.1L545.8 264.0L546.0 261.9L546.2 259.8L546.5 257.7L546.7 255.7L546.9 253.6L547.2 251.5L547.4 249.4L547.6 247.3L547.9 245.2L548.1 243.1L548.3 241.0L548.6 238.9L548.8 236.8L549.0 234.7L549.3 232.6L549.5 230.6L549.7 228.5L550.0 226.4L550.2 224.3L550.4 222.2L550.7 220.1L550.9 218.0L551.1 215.9L551.4 213.8L551.6 211.7L551.8 209.7L552.1 207.6L552.3 205.5L552.5 203.4L552.8 201.3L553.0 199.2L553.2 197.1L553.5 195.0L553.7 192.9L553.9 190.8L554.2 188.7L554.4 186.6L554.6 184.6L554.8 182.5L555.1 180.4L555.3 178.3L555.5 176.2L555.7 174.1L556.0 172.0L556.2 169.9L556.4 167.8L556.6 165.7L556.9 163.6" stroke="#6408e6" stroke-width="2.3" stroke-dasharray="11 9.5"/>
</g>
<g id="axesA" stroke="#5a5a5a" stroke-width="1.3" fill="none">
<rect x="210.3" y="34.0" width="581.7" height="470.2"/>
<path d="M251.9 504.2v-4.5M251.9 34.0v4.5M293.4 504.2v-9.5M293.4 34.0v9.5M335.0 504.2v-4.5M335.0 34.0v4.5M376.5 504.2v-9.5M376.5 34.0v9.5M418.1 504.2v-4.5M418.1 34.0v4.5M459.6 504.2v-9.5M459.6 34.0v9.5M501.2 504.2v-4.5M501.2 34.0v4.5M542.7 504.2v-9.5M542.7 34.0v9.5M584.2 504.2v-4.5M584.2 34.0v4.5M625.8 504.2v-9.5M625.8 34.0v9.5M667.4 504.2v-4.5M667.4 34.0v4.5M708.9 504.2v-9.5M708.9 34.0v9.5M750.5 504.2v-4.5M750.5 34.0v4.5M210.3 470.6h4.5M792.0 470.6h-4.5M210.3 437.0h9.5M792.0 437.0h-9.5M210.3 403.4h4.5M792.0 403.4h-4.5M210.3 369.9h9.5M792.0 369.9h-9.5M210.3 336.3h4.5M792.0 336.3h-4.5M210.3 302.7h9.5M792.0 302.7h-9.5M210.3 269.1h4.5M792.0 269.1h-4.5M210.3 235.5h9.5M792.0 235.5h-9.5M210.3 201.9h4.5M792.0 201.9h-4.5M210.3 168.3h9.5M792.0 168.3h-9.5M210.3 134.8h4.5M792.0 134.8h-4.5M210.3 101.2h9.5M792.0 101.2h-9.5M210.3 67.6h4.5M792.0 67.6h-4.5"/>
</g>
<g id="textA" font-family="'Liberation Serif', serif" fill="#111">
<text x="210.3" y="536" font-size="29.5" text-anchor="middle">0</text>
<text x="293.4" y="536" font-size="29.5" text-anchor="middle">1</text>
<text x="376.5" y="536" font-size="29.5" text-anchor="middle">2</text>
<text x="459.6" y="536" font-size="29.5" text-anchor="middle">3</text>
<text x="542.7" y="536" font-size="29.5" text-anchor="middle">4</text>
<text x="625.8" y="536" font-size="29.5" text-anchor="middle">5</text>
<text x="708.9" y="536" font-size="29.5" text-anchor="middle">6</text>
<text x="792.0" y="536" font-size="29.5" text-anchor="middle">7</text>
<text x="199" y="513.4" font-size="29.5" text-anchor="end">0</text>
<text x="199" y="446.2" font-size="29.5" text-anchor="end">100</text>
<text x="199" y="379.1" font-size="29.5" text-anchor="end">200</text>
<text x="199" y="311.9" font-size="29.5" text-anchor="end">300</text>
<text x="199" y="244.7" font-size="29.5" text-anchor="end">400</text>
<text x="199" y="177.5" font-size="29.5" text-anchor="end">500</text>
<text x="199" y="110.4" font-size="29.5" text-anchor="end">600</text>
<text x="199" y="42.0" font-size="29.5" text-anchor="end">700</text>
<text x="500.5" y="583.7" font-size="29.3" text-anchor="middle">Displacement (mm)</text>
<text transform="translate(119.5 263.8) rotate(-90)" font-size="29.5" text-anchor="middle">Force (N)</text>
<text x="22.5" y="47" font-size="37">(a)</text>
<rect x="590" y="57.6" width="49.2" height="27.5" fill="#8a0cff"/>
<text x="657.3" y="80.2" font-size="23.6">Unit cell 1</text>
<rect x="590" y="102.9" width="49.2" height="27.5" fill="#33b824"/>
<text x="657.3" y="125.5" font-size="23.6">Unit cell 2</text>
<rect x="590" y="148.2" width="49.2" height="27.5" fill="#ff3a24"/>
<text x="657.3" y="170.8" font-size="23.6">Unit cell 3</text>
<path d="M590 202.3H640" stroke="#111" stroke-width="2" fill="none"/>
<text x="657" y="211.2" font-size="23.5">Experiment</text>
<path d="M590 236.5H633" stroke="#111" stroke-width="2" stroke-dasharray="7.6 4.2" fill="none"/>
<text x="657" y="244.4" font-size="23.6">Simulation</text>
</g>
<g id="axesB" stroke="#5a5a5a" stroke-width="1.3" fill="none">
<rect x="1076.6" y="42.2" width="716.4" height="424.0"/>
<path d="M1166.1 466.2v-10M1255.7 466.2v-10M1345.2 466.2v-10M1434.8 466.2v-10M1524.3 466.2v-10M1613.9 466.2v-10M1703.5 466.2v-10M1076.6 405.6h10M1076.6 345.1h10M1076.6 284.5h10M1076.6 223.9h10M1076.6 163.3h10M1076.6 102.8h10"/>
</g>
<g id="plotB" fill="none" stroke-width="2.3" stroke-linejoin="round">
<path d="M1076.6 466.4L1079.0 462.8L1081.2 459.2L1083.3 455.6L1085.3 452.0L1087.1 448.3L1088.8 444.6L1090.4 440.9L1091.9 437.1L1093.4 433.3L1094.7 429.5L1096.0 425.7L1097.2 421.8L1098.3 418.0L1099.4 414.1L1100.4 410.1L1101.4 406.2L1102.4 402.2L1103.4 398.2L1104.3 394.2L1105.2 390.2L1106.2 386.2L1107.1 382.1L1108.1 378.0L1109.1 373.9L1110.2 369.8L1111.2 365.6L1112.4 361.5L1113.7 357.5L1115.1 353.5L1116.6 349.6L1118.2 345.8L1120.0 342.1L1122.0 338.6L1124.2 335.2L1126.6 331.9L1129.2 328.9L1132.1 326.1L1135.3 323.5L1138.7 321.3L1142.3 319.5L1146.0 318.1L1149.8 317.4L1153.7 317.4L1157.6 318.0L1161.6 319.2L1165.5 320.7L1169.4 322.6L1173.2 324.7L1176.9 326.9L1180.5 329.1L1184.0 331.3L1187.4 333.6L1190.8 335.9L1194.2 338.2L1197.6 340.5L1200.9 342.8L1204.3 345.1L1207.7 347.5L1211.0 349.8L1214.4 352.2L1217.8 354.5L1221.2 356.9L1224.6 359.2L1228.0 361.5L1231.4 363.8L1234.9 366.0L1238.3 368.3L1241.8 370.5L1245.3 372.7L1248.8 374.8L1252.3 377.0L1255.8 379.1L1259.3 381.2L1262.9 383.3L1266.4 385.3L1270.0 387.3L1273.6 389.3L1277.2 391.3L1280.8 393.2L1284.4 395.2L1288.1 397.0L1291.8 398.9L1295.4 400.7L1299.1 402.5L1302.9 404.3L1306.6 406.1L1310.3 407.8L1314.1 409.5L1317.8 411.1L1321.6 412.8L1325.4 414.4L1329.2 415.9L1333.1 417.4L1336.9 418.9L1340.8 420.4L1344.6 421.8L1348.5 423.2L1352.4 424.5L1356.3 425.8L1360.2 427.1L1364.2 428.3L1368.1 429.5L1372.1 430.7L1376.0 431.8L1380.0 432.8L1384.0 433.9L1388.0 434.9L1392.0 435.8L1396.0 436.7L1400.0 437.6L1404.0 438.4L1408.1 439.2L1412.1 440.0L1416.2 440.7L1420.2 441.4L1424.3 442.1L1428.3 442.8L1432.4 443.4L1436.5 443.9L1440.6 444.5L1444.6 445.0L1448.7 445.5L1452.8 445.9L1456.9 446.4L1461.0 446.8L1465.1 447.1L1469.2 447.5L1473.3 447.8L1477.4 448.0L1481.5 448.3L1485.6 448.5L1489.7 448.7L1493.8 448.9L1497.9 449.1L1502.0 449.2L1506.1 449.3L1510.2 449.3L1514.3 449.4L1518.5 449.4L1522.6 449.4L1526.7 449.4L1530.8 449.3L1534.9 449.3L1539.0 449.2L1543.1 449.1L1547.3 448.9L1551.4 448.8L1555.5 448.6L1559.6 448.4L1563.7 448.1L1567.8 447.9L1571.9 447.6L1576.1 447.4L1580.2 447.1L1584.3 446.7L1588.4 446.4L1592.5 446.0L1596.6 445.7L1600.7 445.3L1604.8 444.8L1608.9 444.4L1613.0 444.0L1617.0 443.5L1621.1 443.0L1625.2 442.5L1629.3 442.0L1633.4 441.5L1637.4 440.9L1641.5 440.3L1645.6 439.7L1649.6 439.0L1653.7 438.4L1657.7 437.7L1661.8 436.9L1665.8 436.1L1669.8 435.3L1673.9 434.5L1677.9 433.6L1681.9 432.7L1685.9 431.8L1689.9 430.8L1693.9 429.7L1697.8 428.7L1701.8 427.5L1705.8 426.4L1709.7 425.2L1713.7 423.9L1717.6 422.6L1721.5 421.2L1725.3 419.7L1729.1 418.1L1732.8 416.3L1736.4 414.3L1739.8 412.2L1743.0 409.7L1746.1 407.1L1748.9 404.1L1751.5 400.7L1753.9 397.0L1753.7 397.2L1754.9 393.7L1756.1 390.2L1757.3 386.7L1758.4 383.2L1759.4 379.6L1760.5 376.1L1761.5 372.6L1762.4 369.0L1763.4 365.5L1764.3 361.9L1765.1 358.3L1766.0 354.8L1766.8 351.2L1767.6 347.6L1768.4 344.0L1769.1 340.4L1769.8 336.8L1770.5 333.2L1771.1 329.6L1771.8 326.0L1772.4 322.3L1772.9 318.7L1773.5 315.1L1774.0 311.4L1774.6 307.8L1775.1 304.1L1775.5 300.5L1776.0 296.9L1776.5 293.2L1776.9 289.5L1777.3 285.9L1777.7 282.2L1778.1 278.6L1778.4 274.9L1778.8 271.3L1779.1 267.6L1779.4 263.9L1779.7 260.3L1780.0 256.6" stroke="#9ccb5a"/>
<path d="M1076.7 466.2L1077.2 461.3L1077.7 456.5L1078.2 451.6L1078.7 446.7L1079.3 441.9L1079.8 437.0L1080.3 432.1L1080.8 427.3L1081.3 422.4L1081.8 417.5L1082.3 412.6L1082.8 407.8L1083.4 402.9L1083.9 398.0L1084.4 393.1L1084.9 388.2L1085.4 383.4L1085.9 378.5L1086.4 373.6L1086.9 368.7L1087.4 363.8L1087.9 358.9L1088.3 354.0L1088.8 349.2L1089.3 344.3L1089.8 339.4L1090.3 334.5L1090.8 329.6L1091.3 324.7L1091.8 319.8L1092.3 315.0L1092.8 310.1L1093.3 305.2L1093.8 300.3L1094.3 295.4L1094.8 290.5L1095.3 285.7L1095.8 280.8L1096.3 275.9L1096.8 271.0L1097.4 266.1L1097.9 261.3L1098.4 256.4L1098.9 251.5L1099.4 246.6L1099.9 241.8L1100.4 236.9L1101.0 232.0L1101.5 227.2L1102.0 222.3L1102.5 217.4L1103.1 212.6L1103.6 207.7L1104.1 202.9L1104.7 198.0L1105.2 193.2L1105.8 188.3L1106.3 183.5L1106.9 178.6L1107.4 173.8L1108.0 168.9L1108.6 164.0L1109.2 159.2L1109.7 154.3L1110.3 149.4L1110.9 144.5L1111.5 139.6L1112.1 134.7L1112.7 129.8L1113.3 124.9L1114.0 120.0L1114.6 115.0L1115.3 110.1L1115.9 105.1L1116.7 100.2L1117.7 95.3L1119.2 90.6L1121.3 86.1L1124.0 82.7L1126.9 83.4L1129.4 87.4L1131.3 92.0L1132.6 96.8L1133.7 101.8L1134.6 106.8L1135.5 111.8L1136.4 116.7L1137.3 121.6L1138.2 126.5L1139.2 131.3L1140.1 136.1L1141.1 140.9L1142.1 145.6L1143.2 150.4L1144.2 155.1L1145.3 159.8L1146.4 164.6L1147.6 169.3L1148.7 174.0L1149.9 178.8L1151.2 183.5L1152.4 188.2L1153.8 193.0L1155.1 197.7L1156.5 202.4L1157.9 207.1L1159.4 211.8L1161.0 216.5L1162.5 221.1L1164.2 225.8L1165.9 230.4L1167.6 235.0L1169.4 239.6L1171.3 244.1L1173.2 248.6L1175.2 253.1L1177.3 257.6L1179.4 262.0L1181.6 266.4L1183.9 270.7L1186.2 275.0L1188.6 279.3L1191.1 283.5L1193.7 287.7L1196.4 291.8L1199.1 295.8L1201.9 299.9L1204.8 303.8L1207.8 307.7L1210.8 311.6L1213.9 315.3L1217.1 319.0L1220.4 322.7L1223.7 326.3L1227.1 329.8L1230.6 333.2L1234.2 336.6L1237.8 339.8L1241.5 343.0L1245.2 346.1L1249.1 349.2L1253.0 352.1L1256.9 355.0L1261.0 357.7L1265.0 360.4L1269.2 363.0L1273.4 365.5L1277.7 367.9L1282.0 370.2L1286.4 372.4L1290.8 374.6L1295.2 376.7L1299.7 378.8L1304.2 380.8L1308.8 382.7L1313.3 384.6L1317.9 386.5L1322.5 388.3L1327.1 390.1L1331.6 391.9L1336.2 393.7L1340.8 395.4L1345.4 397.1L1350.0 398.8L1354.6 400.5L1359.2 402.2L1363.8 403.9L1368.4 405.6L1373.0 407.2L1377.6 408.8L1382.2 410.5L1386.8 412.1L1391.4 413.8L1396.0 415.4L1400.6 417.0L1405.2 418.7L1409.8 420.3L1414.4 422.0L1419.0 423.6L1423.6 425.3L1428.2 427.0L1432.8 428.7L1437.4 430.4L1442.0 432.1L1446.6 433.8L1451.2 435.6L1455.7 437.3L1460.3 439.1L1464.9 440.9L1469.5 442.8L1474.1 444.7L1478.7 446.5L1483.3 448.3L1487.9 449.9L1492.6 451.4L1497.3 452.6L1502.0 453.4L1506.8 453.9L1511.6 454.0L1512.2 453.8L1513.7 450.3L1515.2 446.9L1516.5 443.4L1517.8 439.9L1519.0 436.4L1520.2 432.8L1521.3 429.3L1522.4 425.7L1523.3 422.1L1524.3 418.5L1525.2 414.8L1526.0 411.2L1526.8 407.5L1527.6 403.8L1528.3 400.2L1529.0 396.5L1529.6 392.8L1530.3 389.1L1530.9 385.3L1531.5 381.6L1532.0 377.9L1532.6 374.2L1533.1 370.4L1533.7 366.7L1534.2 363.0L1534.8 359.2L1535.3 355.5L1535.8 351.8L1536.4 348.0L1537.0 344.3L1537.5 340.6L1538.1 336.9L1538.7 333.2L1539.4 329.5L1540.1 325.8L1540.8 322.1L1541.5 318.5L1542.3 314.8L1543.1 311.2" stroke="#2bb0e6"/>
<path d="M1077.0 467.0L1078.7 465.3L1080.3 463.7L1082.0 462.0L1083.7 460.4L1085.4 458.7L1087.1 457.1L1088.9 455.5L1090.7 453.9L1092.5 452.4L1094.3 450.9L1096.2 449.5L1098.0 448.2L1100.0 446.9L1101.9 445.6L1103.9 444.5L1105.9 443.4L1108.0 442.5L1110.1 441.6L1112.2 440.8L1114.4 440.1L1116.5 439.5L1118.7 438.9L1121.0 438.4L1123.2 437.9L1125.5 437.6L1127.8 437.2L1130.1 437.0L1132.4 436.7L1134.7 436.5L1137.0 436.4L1139.3 436.2L1141.6 436.1L1143.9 436.0L1146.2 436.0L1148.5 436.0L1150.8 435.9L1153.2 436.0L1155.5 436.0L1157.8 436.0L1160.1 436.1L1162.4 436.2L1164.7 436.3L1167.0 436.4L1169.2 436.6L1171.5 436.7L1173.8 436.9L1176.1 437.1L1178.4 437.3L1180.7 437.5L1183.0 437.7L1185.3 438.0L1187.6 438.3L1189.9 438.5L1192.2 438.8L1194.4 439.1L1196.7 439.4L1199.0 439.7L1201.3 440.0L1203.6 440.4L1205.9 440.7L1208.1 441.0L1210.4 441.4L1212.7 441.7L1215.0 442.1L1217.3 442.4L1219.6 442.8L1221.9 443.2L1224.1 443.6L1226.4 443.9L1228.7 444.3L1231.0 444.7L1233.3 445.1L1235.6 445.4L1237.9 445.8L1240.1 446.2L1242.4 446.6L1244.7 446.9L1247.0 447.3L1249.3 447.6L1251.6 448.0L1253.9 448.4L1256.2 448.7L1258.5 449.0L1260.8 449.4L1263.1 449.7L1265.4 450.0L1267.7 450.3L1270.0 450.6L1272.3 450.9L1274.6 451.2L1276.9 451.5L1279.2 451.8L1281.5 452.1L1283.8 452.3L1286.1 452.6L1288.4 452.9L1290.7 453.1L1293.0 453.3L1295.3 453.6L1297.7 453.8L1300.0 454.0L1302.3 454.2L1304.6 454.4L1306.9 454.6L1309.2 454.8L1311.5 455.0L1313.8 455.2L1316.2 455.3L1318.5 455.5L1320.8 455.6L1323.1 455.8L1325.4 455.9L1327.7 456.1L1330.0 456.2L1332.4 456.3L1334.7 456.4L1337.0 456.5L1339.3 456.6L1341.6 456.7L1343.9 456.7L1346.2 456.8L1348.6 456.9L1350.9 456.9L1353.2 457.0L1355.5 457.0L1357.8 457.0L1360.1 457.0L1362.5 457.0L1364.8 457.0L1367.1 457.0L1369.4 457.0L1371.7 457.0L1374.0 457.0L1376.3 456.9L1378.6 456.9L1381.0 456.8L1383.3 456.7L1385.6 456.7L1387.9 456.6L1390.2 456.5L1392.5 456.4L1394.8 456.3L1397.1 456.1L1399.4 456.0L1401.7 455.9L1404.0 455.7L1406.3 455.6L1408.6 455.4L1410.9 455.2L1413.2 455.0L1415.5 454.8L1417.8 454.6L1420.1 454.4L1422.4 454.2L1424.7 453.9L1427.0 453.7L1429.3 453.4L1431.6 453.2L1433.9 452.9L1436.2 452.6L1438.5 452.3L1440.8 452.0L1443.0 451.7L1445.3 451.4L1447.6 451.0L1449.9 450.7L1452.2 450.3L1454.5 450.0L1456.7 449.6L1459.0 449.2L1461.3 448.8L1463.5 448.4L1465.8 448.0L1468.1 447.6L1470.4 447.1L1472.6 446.7L1474.9 446.2L1477.1 445.8L1479.4 445.3L1481.7 444.8L1483.9 444.3L1486.2 443.8L1488.4 443.2L1490.7 442.7L1492.9 442.2L1495.2 441.6L1497.4 441.0L1499.6 440.5L1501.9 439.9L1504.1 439.3L1506.4 438.6L1508.6 438.0L1510.8 437.4L1513.1 436.7L1515.3 436.1L1517.5 435.4L1519.7 434.7L1521.9 434.0L1524.2 433.3" stroke="#f22ecb"/>
</g>
<g id="textB" font-family="'Liberation Serif', serif" fill="#111">
<text x="1076.6" y="516.3" font-size="32.5" text-anchor="middle">0</text>
<text x="1166.1" y="516.3" font-size="32.5" text-anchor="middle">5</text>
<text x="1255.7" y="516.3" font-size="32.5" text-anchor="middle">10</text>
<text x="1345.2" y="516.3" font-size="32.5" text-anchor="middle">15</text>
<text x="1434.8" y="516.3" font-size="32.5" text-anchor="middle">20</text>
<text x="1524.3" y="516.3" font-size="32.5" text-anchor="middle">25</text>
<text x="1613.9" y="516.3" font-size="32.5" text-anchor="middle">30</text>
<text x="1703.5" y="516.3" font-size="32.5" text-anchor="middle">35</text>
<text x="1793.0" y="516.3" font-size="32.5" text-anchor="middle">40</text>
<text x="1048.5" y="477.1" font-size="32.5" text-anchor="end">0</text>
<text x="1048.5" y="416.5" font-size="32.5" text-anchor="end">1</text>
<text x="1048.5" y="356.0" font-size="32.5" text-anchor="end">2</text>
<text x="1048.5" y="295.4" font-size="32.5" text-anchor="end">3</text>
<text x="1048.5" y="234.8" font-size="32.5" text-anchor="end">4</text>
<text x="1048.5" y="174.2" font-size="32.5" text-anchor="end">5</text>
<text x="1048.5" y="113.7" font-size="32.5" text-anchor="end">6</text>
<text x="1048.5" y="53.1" font-size="32.5" text-anchor="end">7</text>
<text x="1427.2" y="563.5" font-size="32" text-anchor="middle" word-spacing="3.5">Effective strain (%)</text>
<text transform="translate(988 260) rotate(-90)" font-size="32" text-anchor="middle" word-spacing="3">Effective stress (MPa)</text>
<text x="921.8" y="47.6" font-size="37.5">(b)</text>
<path d="M1599.5 81.8H1640" stroke="#2bb0e6" stroke-width="2.4" fill="none"/>
<text x="1644.5" y="91.5" font-size="33">unit cell 1</text>
<path d="M1599.5 128.1H1640" stroke="#9ccb5a" stroke-width="2.4" fill="none"/>
<text x="1644.5" y="137.8" font-size="33">unit cell 2</text>
<path d="M1599.5 174.4H1640" stroke="#f22ecb" stroke-width="2.4" fill="none"/>
<text x="1644.5" y="184.1" font-size="33">unit cell 3</text>
</g>
<defs>
<filter id="goo" x="-5%" y="-5%" width="110%" height="110%" color-interpolation-filters="sRGB">
<feGaussianBlur stdDeviation="2.6" result="b"/>
<feComponentTransfer><feFuncA type="linear" slope="4.5" intercept="-1.75"/></feComponentTransfer>
<feGaussianBlur stdDeviation="0.55"/>
</filter>
<linearGradient id="pstrip" x1="0" x2="0" y1="0" y2="1">
<stop offset="0" stop-color="#8c8c8c" stop-opacity="0.75"/><stop offset="0.35" stop-color="#a0a0a0" stop-opacity="0.5"/><stop offset="1" stop-color="#c0c0c0" stop-opacity="0"/>
</linearGradient>
</defs>
<g id="photos">
<rect x="243.3" y="637.7" width="182.3" height="184.7" fill="#d8d8d8"/>
<clipPath id="pc0"><rect x="243.3" y="637.7" width="182.3" height="184.7"/></clipPath>
<g clip-path="url(#pc0)"><g filter="url(#goo)"><path d="M252.4 637.7L418.7 637.7L418.7 679.2L364.5 680.6L364.5 691.3L397.7 755.3L418.2 756.6L420.1 822.3L254.4 822.3L253.4 757.6L275.8 754.1L305.1 693.2L305.1 680.6L252.4 680.0ZM313.8 706.9L354.8 706.9L387.0 768.3L386.0 782.9L285.6 783.9L284.6 766.4Z" fill="#0b0b0b" fill-rule="evenodd"/></g></g>
<rect x="495.3" y="640.6" width="182.3" height="181.7" fill="#c9c9c9"/>
<rect x="495.3" y="640.6" width="11.2" height="48.8" fill="url(#pstrip)"/>
<rect x="666.8" y="640.6" width="10.8" height="48.8" fill="url(#pstrip)"/>
<clipPath id="pc1"><rect x="495.3" y="640.6" width="182.3" height="181.7"/></clipPath>
<g clip-path="url(#pc1)"><g filter="url(#goo)"><path d="M504.4 640.6L668.8 640.6L668.8 685.4L615.6 686.4L615.6 699.1L626.3 710.8L638.0 726.4L647.7 755.6L669.2 757.6L670.2 822.3L505.4 822.3L503.1 759.5L523.9 757.6L534.6 734.2L546.3 714.7L557.1 700.1L557.1 687.0L504.4 685.8ZM566.8 712.7L605.8 711.8L618.5 726.4L628.2 742.0L639.9 769.3L639.0 782.0L535.6 783.9L533.1 771.2L542.4 747.8L554.1 728.3Z" fill="#0b0b0b" fill-rule="evenodd"/></g></g>
<rect x="748.3" y="645.5" width="182.7" height="176.9" fill="#c9c6c5"/>
<rect x="748.3" y="645.5" width="10.2" height="48.8" fill="url(#pstrip)"/>
<rect x="922.1" y="645.5" width="8.8" height="48.8" fill="url(#pstrip)"/>
<clipPath id="pc2"><rect x="748.3" y="645.5" width="182.7" height="176.9"/></clipPath>
<g clip-path="url(#pc2)"><g filter="url(#goo)"><path d="M756.4 645.5L924.1 645.5L924.1 690.3L869.5 691.3L869.9 704.9L883.2 713.7L897.8 724.4L903.7 740.0L904.6 754.7L924.5 756.6L926.1 822.3L757.4 822.3L754.5 759.5L775.0 757.2L776.9 742.0L783.7 726.4L799.3 712.7L811.0 704.9L811.0 691.7L756.4 690.9ZM821.8 718.6L859.8 718.2L871.5 726.4L887.1 733.2L890.0 749.8L894.5 769.3L892.9 782.9L788.6 784.5L786.1 770.3L790.6 751.7L792.5 737.1L809.1 727.4Z" fill="#0b0b0b" fill-rule="evenodd"/></g></g>
<rect x="1003.3" y="659.1" width="182.3" height="161.4" fill="#c8c6c5"/>
<rect x="1003.3" y="659.1" width="9.2" height="44.9" fill="url(#pstrip)"/>
<rect x="1175.2" y="659.1" width="10.4" height="44.9" fill="url(#pstrip)"/>
<clipPath id="pc3"><rect x="1003.3" y="659.1" width="182.3" height="161.4"/></clipPath>
<g clip-path="url(#pc3)"><g filter="url(#goo)"><path d="M1010.5 659.1L1177.2 659.1L1177.2 700.1L1124.2 701.0L1124.2 713.7L1130.4 717.0L1144.0 716.6L1155.7 722.5L1161.2 734.2L1158.1 751.7L1177.2 753.7L1178.7 820.6L1010.5 820.6L1007.9 757.6L1028.0 754.1L1026.7 734.2L1033.9 720.9L1046.5 715.7L1065.1 715.1L1065.1 701.4L1010.5 700.7ZM1071.9 728.7L1114.8 728.0L1130.4 731.3L1144.4 731.3L1146.4 742.0L1145.0 755.6L1148.3 769.3L1146.0 780.0L1042.6 781.6L1039.7 769.3L1042.3 757.6L1039.7 742.0L1042.6 733.2L1058.2 732.2Z" fill="#0b0b0b" fill-rule="evenodd"/></g></g>
<rect x="1255.3" y="667.9" width="182.3" height="152.7" fill="#c5c5c5"/>
<rect x="1255.3" y="667.9" width="11.2" height="46.9" fill="url(#pstrip)"/>
<rect x="1428.2" y="667.9" width="9.4" height="46.9" fill="url(#pstrip)"/>
<clipPath id="pc4"><rect x="1255.3" y="667.9" width="182.3" height="152.7"/></clipPath>
<g clip-path="url(#pc4)"><g filter="url(#goo)"><path d="M1264.4 667.9L1430.2 667.9L1430.2 710.8L1376.5 711.8L1376.9 724.4L1382.4 725.4L1392.1 719.6L1403.8 718.6L1412.6 726.4L1414.6 736.1L1411.6 749.8L1430.2 752.7L1431.5 820.6L1264.4 820.6L1261.5 755.6L1282.0 752.7L1279.0 736.1L1283.9 724.4L1294.6 717.6L1308.3 720.5L1318.0 725.4L1317.7 712.2L1264.4 711.2ZM1293.7 733.2L1306.3 738.1L1318.0 740.0L1329.7 738.1L1366.8 737.7L1378.5 739.7L1390.2 736.1L1399.0 732.2L1398.0 745.9L1400.3 761.5L1399.9 775.1L1396.0 779.0L1298.5 780.4L1293.7 775.1L1293.1 761.5L1294.6 749.8L1293.1 740.0Z" fill="#0b0b0b" fill-rule="evenodd"/></g></g>
<rect x="1509.3" y="683.5" width="182.3" height="138.4" fill="#c6c6c6"/>
<rect x="1509.3" y="683.5" width="11.2" height="46.9" fill="url(#pstrip)"/>
<rect x="1682.2" y="683.5" width="9.4" height="46.9" fill="url(#pstrip)"/>
<clipPath id="pc5"><rect x="1509.3" y="683.5" width="182.3" height="138.4"/></clipPath>
<g clip-path="url(#pc5)"><g filter="url(#goo)"><path d="M1518.4 683.5L1684.2 683.5L1684.2 726.4L1663.7 727.4L1667.2 738.1L1664.7 752.7L1684.2 755.3L1685.5 821.9L1518.4 821.9L1515.5 758.6L1536.0 755.6L1535.6 738.1L1539.9 727.4L1518.4 726.8ZM1549.6 738.1L1556.4 747.8L1568.1 753.7L1583.7 753.7L1620.8 752.7L1636.4 752.7L1646.1 745.9L1652.0 737.1L1652.0 751.7L1654.9 769.3L1653.0 779.0L1648.1 782.0L1552.5 782.5L1547.7 777.1L1547.7 767.3L1548.6 751.7ZM1560.0 724.8L1574.8 724.8L1574.0 745.5ZM1629.4 724.8L1645.7 724.8L1631.3 745.5Z" fill="#0b0b0b" fill-rule="evenodd"/></g></g>
</g>
<g id="dlabels" font-family="'Liberation Serif', serif" fill="#111" stroke="#111" stroke-width="0.35">
<text x="254.7" y="864.8" font-size="37.5" font-style="italic">d</text>
<text transform="translate(285.7 867.4) scale(1.28 1)" font-size="38" stroke="#111" stroke-width="0.9">=</text>
<text x="325.2" y="864.8" font-size="37">0</text>
<text transform="translate(352.9 864.8) scale(1.13 0.94)" font-size="38" font-style="italic">mm</text>
<text x="492.3" y="864.8" font-size="37.5" font-style="italic">d</text>
<text transform="translate(523.3 867.4) scale(1.28 1)" font-size="38" stroke="#111" stroke-width="0.9">=</text>
<text x="562.8" y="864.8" font-size="37">0.5</text>
<text transform="translate(619.0 864.8) scale(1.13 0.94)" font-size="38" font-style="italic">mm</text>
<text x="746.2" y="864.8" font-size="37.5" font-style="italic">d</text>
<text transform="translate(777.2 867.4) scale(1.28 1)" font-size="38" stroke="#111" stroke-width="0.9">=</text>
<text x="816.7" y="864.8" font-size="37">1.0</text>
<text transform="translate(872.8 864.8) scale(1.13 0.94)" font-size="38" font-style="italic">mm</text>
<text x="1000.8" y="864.8" font-size="37.5" font-style="italic">d</text>
<text transform="translate(1031.8 867.4) scale(1.28 1)" font-size="38" stroke="#111" stroke-width="0.9">=</text>
<text x="1071.3" y="864.8" font-size="37">2.0</text>
<text transform="translate(1127.8 864.8) scale(1.13 0.94)" font-size="38" font-style="italic">mm</text>
<text x="1251.2" y="864.8" font-size="37.5" font-style="italic">d</text>
<text transform="translate(1282.2 867.4) scale(1.28 1)" font-size="38" stroke="#111" stroke-width="0.9">=</text>
<text x="1321.7" y="864.8" font-size="37">3.0</text>
<text transform="translate(1378.3 864.8) scale(1.13 0.94)" font-size="38" font-style="italic">mm</text>
<text x="1505.8" y="864.8" font-size="37.5" font-style="italic">d</text>
<text transform="translate(1536.8 867.4) scale(1.28 1)" font-size="38" stroke="#111" stroke-width="0.9">=</text>
<text x="1576.3" y="864.8" font-size="37">4.0</text>
<text transform="translate(1632.8 864.8) scale(1.13 0.94)" font-size="38" font-style="italic">mm</text>
</g>
<text x="151.8" y="663.8" font-family="'Liberation Serif', serif" font-size="38" fill="#111">(c)</text>
<defs><filter id="fb" x="-10%" y="-10%" width="120%" height="120%"><feGaussianBlur stdDeviation="1.1"/></filter><filter id="fb2" x="-10%" y="-10%" width="120%" height="120%"><feGaussianBlur stdDeviation="1.35"/></filter></defs>
<g id="fe">
<clipPath id="fc0"><path d="M264.2 888.8L421.8 888.8L421.8 927.6L369.4 927.6L369.4 943.9L399.9 1006.2L421.8 1006.2L421.8 1071.5L264.2 1071.5L264.2 1006.2L286.6 1006.2L317.1 943.9L317.1 927.6L264.2 927.6ZM321.8 953.8L364.1 953.8L394.9 1016.7L395.1 1031.5L291.0 1031.5L291.0 1016.7Z" clip-rule="evenodd"/></clipPath>
<g clip-path="url(#fc0)">
<rect x="261.2" y="885.8" width="163.6" height="188.7" fill="#0202de"/>
<path d="M343.3 888.8V1071.5" stroke="#4a55d8" stroke-width="0.9" opacity="0.8"/>
</g>
<clipPath id="fc1"><path d="M507.8 891.6L664.4 891.6L664.4 931.0L612.5 931.0L612.5 944.3L614.1 946.9L615.6 949.5L617.2 952.2L618.7 954.8L620.3 957.4L621.8 960.1L623.3 962.7L624.8 965.4L626.3 968.0L627.8 970.7L629.3 973.3L630.8 976.0L632.3 978.6L633.7 981.3L635.2 984.0L636.5 986.7L637.9 989.5L639.2 992.2L640.4 995.0L641.7 997.7L642.9 1000.5L644.1 1003.4L645.2 1006.2L665.8 1006.2L664.8 1070.9L507.8 1070.9L506.8 1006.2L527.4 1006.2L528.5 1003.4L529.7 1000.5L530.9 997.7L532.2 995.0L533.4 992.2L534.7 989.5L536.1 986.7L537.5 984.0L538.9 981.3L540.4 978.6L541.8 976.0L543.3 973.3L544.8 970.7L546.3 968.0L547.8 965.4L549.3 962.7L550.8 960.1L552.3 957.4L553.9 954.8L555.4 952.2L557.0 949.5L558.6 946.9L560.1 944.3L560.1 931.0L507.8 931.0ZM566.2 956.7L606.8 956.7L608.4 959.2L610.1 961.7L611.8 964.2L613.4 966.7L615.0 969.2L616.6 971.7L618.2 974.2L619.8 976.7L621.4 979.3L623.0 981.8L624.6 984.3L626.1 986.9L627.6 989.5L629.1 992.1L630.4 994.7L631.8 997.4L633.0 1000.1L634.3 1002.8L635.5 1005.5L636.7 1008.3L637.8 1011.0L638.9 1013.8L639.9 1016.7L639.1 1031.5L533.5 1031.5L533.1 1016.7L534.1 1013.8L535.2 1011.0L536.3 1008.3L537.5 1005.5L538.7 1002.8L540.0 1000.1L541.2 997.4L542.6 994.7L543.9 992.1L545.4 989.5L546.9 986.9L548.4 984.3L550.0 981.8L551.6 979.3L553.2 976.7L554.8 974.2L556.4 971.7L558.0 969.2L559.6 966.7L561.2 964.2L562.9 961.7L564.6 959.2Z" clip-rule="evenodd"/></clipPath>
<g clip-path="url(#fc1)">
<rect x="504.8" y="888.6" width="162.7" height="185.3" fill="#0000cc"/>
<g filter="url(#fb)">
<rect x="502.8" y="1005.2" width="166.9" height="70.7" fill="#28e646"/>
<rect x="517.3" y="1018.6" width="138.0" height="67.6" rx="13.3" fill="#14e19b"/>
<rect x="521.1" y="1024.3" width="130.4" height="61.9" rx="13.3" fill="#1edcdc"/>
<rect x="524.0" y="1031.5" width="124.7" height="54.6" rx="11.4" fill="#1e96e6"/>
<rect x="526.8" y="1039.5" width="119.0" height="46.6" rx="9.5" fill="#0a50dc"/>
<rect x="531.2" y="1046.2" width="110.4" height="40.0" rx="7.6" fill="#0000cc"/>
<path d="M506.8 1005.2L524.9 1005.2L506.8 1022.4Z" fill="#1e96e6"/>
<path d="M506.8 1005.2L518.3 1005.2L506.8 1015.7Z" fill="#0a50dc"/>
<path d="M665.8 1005.2L647.7 1005.2L665.8 1022.4Z" fill="#1e96e6"/>
<path d="M665.8 1005.2L654.4 1005.2L665.8 1015.7Z" fill="#0a50dc"/>
<ellipse cx="529.3" cy="1012.9" rx="7.6" ry="10.5" fill="#28e646"/>
<ellipse cx="643.3" cy="1012.9" rx="7.6" ry="10.5" fill="#28e646"/>
<path d="M545.9 890.7L626.8 890.7L617.2 913.9L613.4 931.0L613.4 956.7L560.1 956.7L560.1 931.0L555.4 913.9Z" fill="#0a50dc"/>
<path d="M569.7 890.7L603.0 890.7L605.8 910.1L613.4 929.1L613.4 948.1L560.1 948.1L560.1 929.1L566.8 910.1Z" fill="#1e96e6"/>
<path d="M570.6 956.7L602.0 956.7L590.6 934.8L589.6 921.5L583.0 921.5L582.0 934.8Z" fill="#0a50dc"/>
<path d="M579.2 956.7L593.4 956.7L589.1 944.3L588.3 923.4L584.5 923.4L583.7 944.3Z" fill="#0000cc"/>
<ellipse cx="560.5" cy="946.2" rx="13.3" ry="20.9" fill="#1edcdc"/>
<ellipse cx="560.5" cy="946.2" rx="11.0" ry="18.1" fill="#14e19b"/>
<ellipse cx="560.5" cy="946.2" rx="8.8" ry="15.2" fill="#28e646"/>
<ellipse cx="560.5" cy="946.2" rx="6.1" ry="11.4" fill="#96f000"/>
<ellipse cx="560.5" cy="946.2" rx="4.2" ry="8.0" fill="#f0f000"/>
<ellipse cx="612.1" cy="946.2" rx="13.3" ry="20.9" fill="#1edcdc"/>
<ellipse cx="612.1" cy="946.2" rx="11.0" ry="18.1" fill="#14e19b"/>
<ellipse cx="612.1" cy="946.2" rx="8.8" ry="15.2" fill="#28e646"/>
<ellipse cx="612.1" cy="946.2" rx="6.1" ry="11.4" fill="#96f000"/>
<ellipse cx="612.1" cy="946.2" rx="4.2" ry="8.0" fill="#f0f000"/>
</g>
<g filter="url(#fb2)" fill="none" stroke-linecap="butt" stroke-linejoin="round">
<path d="M564.7 948.1L563.2 950.5L562.5 951.5L561.9 952.5L561.3 953.5L560.6 954.5L560.0 955.5L559.4 956.5L558.8 957.5L558.1 958.5L557.5 959.5L556.9 960.5L556.3 961.5L555.7 962.5L555.1 963.5L554.5 964.5L553.8 965.5L553.2 966.5L552.6 967.5L552.0 968.5L551.4 969.5L550.8 970.5L550.2 971.5L549.6 972.5L549.0 973.6L548.4 974.6L547.8 975.6L547.2 976.6L546.6 977.6L546.0 978.6L545.4 979.6L544.8 980.6L544.2 981.6L543.6 982.7L543.1 983.7L542.5 984.7L541.9 985.7L541.4 986.8L540.8 987.8L540.3 988.9L539.7 989.9L539.2 991.0L538.7 992.0L538.2 993.1L537.7 994.1L537.1 995.2L536.6 996.3L536.2 997.3L535.7 998.4L535.2 999.5L534.7 1000.5L534.2 1001.6L533.8 1002.7L533.3 1003.8L532.9 1004.9L532.4 1006.0L532.0 1007.0L531.5 1008.1L531.1 1009.2L530.7 1010.3L530.3 1011.4L529.0 1014.7" stroke="#22d228" stroke-width="12.0"/>
<path d="M564.7 948.1L563.2 950.5L562.5 951.5L561.9 952.5L561.3 953.5L560.6 954.5L560.0 955.5L559.4 956.5L558.8 957.5L558.1 958.5L557.5 959.5L556.9 960.5L556.3 961.5L555.7 962.5L555.1 963.5L554.5 964.5L553.8 965.5L553.2 966.5L552.6 967.5L552.0 968.5L551.4 969.5L550.8 970.5L550.2 971.5L549.6 972.5L549.0 973.6L548.4 974.6L547.8 975.6L547.2 976.6L546.6 977.6L546.0 978.6L545.4 979.6L544.8 980.6L544.2 981.6L543.6 982.7L543.1 983.7L542.5 984.7L541.9 985.7L541.4 986.8L540.8 987.8L540.3 988.9L539.7 989.9L539.2 991.0L538.7 992.0L538.2 993.1L537.7 994.1L537.1 995.2L536.6 996.3L536.2 997.3L535.7 998.4L535.2 999.5L534.7 1000.5L534.2 1001.6L533.8 1002.7L533.3 1003.8L532.9 1004.9L532.4 1006.0L532.0 1007.0L531.5 1008.1L531.1 1009.2L530.7 1010.3L530.3 1011.4L529.0 1014.7" stroke="#f0f000" stroke-width="8.6"/>
<path d="M564.7 948.1L563.2 950.5L562.5 951.5L561.9 952.5L561.3 953.5L560.6 954.5L560.0 955.5L559.4 956.5L558.8 957.5L558.1 958.5L557.5 959.5L556.9 960.5L556.3 961.5L555.7 962.5L555.1 963.5L554.5 964.5L553.8 965.5L553.2 966.5L552.6 967.5L552.0 968.5L551.4 969.5L550.8 970.5L550.2 971.5L549.6 972.5L549.0 973.6L548.4 974.6L547.8 975.6L547.2 976.6L546.6 977.6L546.0 978.6L545.4 979.6L544.8 980.6L544.2 981.6L543.6 982.7L543.1 983.7L542.5 984.7L541.9 985.7L541.4 986.8L540.8 987.8L540.3 988.9L539.7 989.9L539.2 991.0L538.7 992.0L538.2 993.1L537.7 994.1L537.1 995.2L536.6 996.3L536.2 997.3L535.7 998.4L535.2 999.5L534.7 1000.5L534.2 1001.6L533.8 1002.7L533.3 1003.8L532.9 1004.9L532.4 1006.0L532.0 1007.0L531.5 1008.1L531.1 1009.2L530.7 1010.3L530.3 1011.4L529.0 1014.7" stroke="#ff8c00" stroke-width="7.6"/>
<path d="M564.7 948.1L563.2 950.5L562.5 951.5L561.9 952.5L561.3 953.5L560.6 954.5L560.0 955.5L559.4 956.5L558.8 957.5L558.1 958.5L557.5 959.5L556.9 960.5L556.3 961.5L555.7 962.5L555.1 963.5L554.5 964.5L553.8 965.5L553.2 966.5L552.6 967.5L552.0 968.5L551.4 969.5L550.8 970.5L550.2 971.5L549.6 972.5L549.0 973.6L548.4 974.6L547.8 975.6L547.2 976.6L546.6 977.6L546.0 978.6L545.4 979.6L544.8 980.6L544.2 981.6L543.6 982.7L543.1 983.7L542.5 984.7L541.9 985.7L541.4 986.8L540.8 987.8L540.3 988.9L539.7 989.9L539.2 991.0L538.7 992.0L538.2 993.1L537.7 994.1L537.1 995.2L536.6 996.3L536.2 997.3L535.7 998.4L535.2 999.5L534.7 1000.5L534.2 1001.6L533.8 1002.7L533.3 1003.8L532.9 1004.9L532.4 1006.0L532.0 1007.0L531.5 1008.1L531.1 1009.2L530.7 1010.3L530.3 1011.4L529.0 1014.7" stroke="#f00a00" stroke-width="6.4"/>
<path d="M552.6 967.5L552.0 968.5L551.4 969.5L550.8 970.5L550.2 971.5L549.6 972.5L549.0 973.6L548.4 974.6L547.8 975.6L547.2 976.6L546.6 977.6" stroke="#ff8c00" stroke-width="5.0"/>
<path d="M550.8 970.5L550.2 971.5L549.6 972.5L549.0 973.6L548.4 974.6L547.8 975.6" stroke="#f0f000" stroke-width="3.0"/>
<path d="M534.2 1001.6L533.8 1002.7L533.3 1003.8L532.9 1004.9L532.4 1006.0L532.0 1007.0L531.5 1008.1" stroke="#ff8c00" stroke-width="6.0"/>
<path d="M608.1 948.1L609.6 950.5L610.3 951.5L610.9 952.5L611.5 953.5L612.2 954.5L612.8 955.5L613.4 956.5L614.0 957.5L614.7 958.5L615.3 959.5L615.9 960.5L616.5 961.5L617.1 962.5L617.7 963.5L618.4 964.5L619.0 965.5L619.6 966.5L620.2 967.5L620.8 968.5L621.4 969.5L622.0 970.5L622.6 971.5L623.2 972.5L623.8 973.6L624.4 974.6L625.0 975.6L625.6 976.6L626.2 977.6L626.8 978.6L627.4 979.6L628.0 980.6L628.6 981.6L629.2 982.7L629.7 983.7L630.3 984.7L630.9 985.7L631.4 986.8L632.0 987.8L632.5 988.9L633.1 989.9L633.6 991.0L634.1 992.0L634.6 993.1L635.2 994.1L635.7 995.2L636.2 996.3L636.7 997.3L637.1 998.4L637.6 999.5L638.1 1000.5L638.6 1001.6L639.0 1002.7L639.5 1003.8L640.0 1004.9L640.4 1006.0L640.8 1007.0L641.3 1008.1L641.7 1009.2L642.1 1010.3L642.6 1011.4L643.8 1014.7" stroke="#22d228" stroke-width="12.0"/>
<path d="M608.1 948.1L609.6 950.5L610.3 951.5L610.9 952.5L611.5 953.5L612.2 954.5L612.8 955.5L613.4 956.5L614.0 957.5L614.7 958.5L615.3 959.5L615.9 960.5L616.5 961.5L617.1 962.5L617.7 963.5L618.4 964.5L619.0 965.5L619.6 966.5L620.2 967.5L620.8 968.5L621.4 969.5L622.0 970.5L622.6 971.5L623.2 972.5L623.8 973.6L624.4 974.6L625.0 975.6L625.6 976.6L626.2 977.6L626.8 978.6L627.4 979.6L628.0 980.6L628.6 981.6L629.2 982.7L629.7 983.7L630.3 984.7L630.9 985.7L631.4 986.8L632.0 987.8L632.5 988.9L633.1 989.9L633.6 991.0L634.1 992.0L634.6 993.1L635.2 994.1L635.7 995.2L636.2 996.3L636.7 997.3L637.1 998.4L637.6 999.5L638.1 1000.5L638.6 1001.6L639.0 1002.7L639.5 1003.8L640.0 1004.9L640.4 1006.0L640.8 1007.0L641.3 1008.1L641.7 1009.2L642.1 1010.3L642.6 1011.4L643.8 1014.7" stroke="#f0f000" stroke-width="8.6"/>
<path d="M608.1 948.1L609.6 950.5L610.3 951.5L610.9 952.5L611.5 953.5L612.2 954.5L612.8 955.5L613.4 956.5L614.0 957.5L614.7 958.5L615.3 959.5L615.9 960.5L616.5 961.5L617.1 962.5L617.7 963.5L618.4 964.5L619.0 965.5L619.6 966.5L620.2 967.5L620.8 968.5L621.4 969.5L622.0 970.5L622.6 971.5L623.2 972.5L623.8 973.6L624.4 974.6L625.0 975.6L625.6 976.6L626.2 977.6L626.8 978.6L627.4 979.6L628.0 980.6L628.6 981.6L629.2 982.7L629.7 983.7L630.3 984.7L630.9 985.7L631.4 986.8L632.0 987.8L632.5 988.9L633.1 989.9L633.6 991.0L634.1 992.0L634.6 993.1L635.2 994.1L635.7 995.2L636.2 996.3L636.7 997.3L637.1 998.4L637.6 999.5L638.1 1000.5L638.6 1001.6L639.0 1002.7L639.5 1003.8L640.0 1004.9L640.4 1006.0L640.8 1007.0L641.3 1008.1L641.7 1009.2L642.1 1010.3L642.6 1011.4L643.8 1014.7" stroke="#ff8c00" stroke-width="7.6"/>
<path d="M608.1 948.1L609.6 950.5L610.3 951.5L610.9 952.5L611.5 953.5L612.2 954.5L612.8 955.5L613.4 956.5L614.0 957.5L614.7 958.5L615.3 959.5L615.9 960.5L616.5 961.5L617.1 962.5L617.7 963.5L618.4 964.5L619.0 965.5L619.6 966.5L620.2 967.5L620.8 968.5L621.4 969.5L622.0 970.5L622.6 971.5L623.2 972.5L623.8 973.6L624.4 974.6L625.0 975.6L625.6 976.6L626.2 977.6L626.8 978.6L627.4 979.6L628.0 980.6L628.6 981.6L629.2 982.7L629.7 983.7L630.3 984.7L630.9 985.7L631.4 986.8L632.0 987.8L632.5 988.9L633.1 989.9L633.6 991.0L634.1 992.0L634.6 993.1L635.2 994.1L635.7 995.2L636.2 996.3L636.7 997.3L637.1 998.4L637.6 999.5L638.1 1000.5L638.6 1001.6L639.0 1002.7L639.5 1003.8L640.0 1004.9L640.4 1006.0L640.8 1007.0L641.3 1008.1L641.7 1009.2L642.1 1010.3L642.6 1011.4L643.8 1014.7" stroke="#f00a00" stroke-width="6.4"/>
<path d="M620.2 967.5L620.8 968.5L621.4 969.5L622.0 970.5L622.6 971.5L623.2 972.5L623.8 973.6L624.4 974.6L625.0 975.6L625.6 976.6L626.2 977.6" stroke="#ff8c00" stroke-width="5.0"/>
<path d="M622.0 970.5L622.6 971.5L623.2 972.5L623.8 973.6L624.4 974.6L625.0 975.6" stroke="#f0f000" stroke-width="3.0"/>
<path d="M638.6 1001.6L639.0 1002.7L639.5 1003.8L640.0 1004.9L640.4 1006.0L640.8 1007.0L641.3 1008.1" stroke="#ff8c00" stroke-width="6.0"/>
</g>
<path d="M586.3 891.6V1070.9" stroke="#4a55d8" stroke-width="0.9" opacity="0.8"/>
</g>
<clipPath id="fc2"><path d="M761.2 896.7L918.4 896.7L918.4 936.3L866.4 936.3L866.4 951.9L868.2 954.4L870.1 956.6L872.2 958.7L874.4 960.6L876.8 962.2L879.4 963.7L882.1 965.1L884.7 966.6L887.2 968.2L889.4 970.0L891.9 972.0L894.2 974.2L896.0 976.5L897.0 979.0L897.5 981.7L897.8 984.6L898.1 987.6L898.4 990.7L898.8 993.7L899.3 996.6L899.9 999.5L900.5 1002.4L901.3 1005.2L919.7 1005.2L918.8 1070.3L761.2 1070.3L759.8 1005.2L779.3 1005.2L780.0 1002.4L780.6 999.5L781.2 996.6L781.8 993.7L782.1 990.7L782.4 987.6L782.7 984.6L783.0 981.7L783.5 979.0L784.5 976.5L786.4 974.2L788.7 972.0L791.1 970.0L793.4 968.2L795.8 966.6L798.4 965.1L801.1 963.7L803.7 962.2L806.1 960.6L808.3 958.7L810.4 956.6L812.3 954.4L814.1 951.9L814.1 936.3L761.2 936.3ZM819.2 962.4L861.1 962.4L863.3 964.3L865.5 966.1L867.8 967.9L870.2 969.4L872.8 970.9L875.4 972.2L878.0 973.6L880.4 975.1L882.6 976.8L884.7 978.9L886.6 981.2L888.0 983.7L888.5 986.3L888.9 989.1L889.1 992.0L889.3 994.9L889.6 997.9L889.9 1000.8L890.4 1003.6L891.0 1006.4L891.8 1009.2L892.6 1012.0L893.5 1014.8L892.7 1030.0L787.4 1030.0L786.9 1014.8L787.7 1012.0L788.6 1009.2L789.3 1006.4L789.9 1003.6L790.4 1000.8L790.7 997.9L791.0 994.9L791.2 992.0L791.5 989.1L791.8 986.3L792.4 983.7L793.7 981.2L795.7 978.9L797.8 976.8L799.9 975.1L802.3 973.6L804.9 972.2L807.5 970.9L810.1 969.4L812.5 967.9L814.8 966.1L817.1 964.3Z" clip-rule="evenodd"/></clipPath>
<g clip-path="url(#fc2)">
<rect x="758.2" y="893.7" width="163.2" height="179.6" fill="#0000cc"/>
<g filter="url(#fb)">
<rect x="755.8" y="1004.2" width="167.9" height="71.1" fill="#14e19b"/>
<rect x="770.3" y="1022.4" width="139.0" height="63.2" rx="13.3" fill="#1edcdc"/>
<rect x="775.1" y="1031.5" width="129.4" height="54.1" rx="11.4" fill="#1e96e6"/>
<rect x="777.9" y="1039.5" width="123.7" height="46.1" rx="9.5" fill="#0a50dc"/>
<rect x="782.7" y="1044.3" width="114.6" height="41.3" rx="7.6" fill="#0000cc"/>
<path d="M759.8 1004.3L777.9 1004.3L759.8 1021.4Z" fill="#1e96e6"/>
<path d="M759.8 1004.3L771.3 1004.3L759.8 1014.8Z" fill="#0a50dc"/>
<path d="M919.7 1004.3L901.6 1004.3L919.7 1021.4Z" fill="#1e96e6"/>
<path d="M919.7 1004.3L908.3 1004.3L919.7 1014.8Z" fill="#0a50dc"/>
<ellipse cx="781.2" cy="1011.9" rx="7.6" ry="10.5" fill="#28e646"/>
<ellipse cx="899.4" cy="1011.9" rx="7.6" ry="10.5" fill="#28e646"/>
<path d="M811.2 895.8L868.3 895.8L865.5 913.9L868.3 936.3L866.4 962.4L814.1 962.4L812.2 936.3L815.0 913.9Z" fill="#0a50dc"/>
<rect x="836.1" y="928.7" width="8.4" height="33.7" fill="#0000cc" opacity="0.55"/>
<ellipse cx="814.5" cy="953.8" rx="16.2" ry="24.3" fill="#1e96e6"/>
<ellipse cx="814.5" cy="953.8" rx="12.2" ry="19.1" fill="#1edcdc"/>
<ellipse cx="814.5" cy="953.8" rx="9.9" ry="15.5" fill="#14e19b"/>
<ellipse cx="814.5" cy="953.8" rx="7.6" ry="12.0" fill="#28e646"/>
<ellipse cx="814.5" cy="953.8" rx="4.2" ry="6.5" fill="#96f000"/>
<ellipse cx="866.1" cy="953.8" rx="16.2" ry="24.3" fill="#1e96e6"/>
<ellipse cx="866.1" cy="953.8" rx="12.2" ry="19.1" fill="#1edcdc"/>
<ellipse cx="866.1" cy="953.8" rx="9.9" ry="15.5" fill="#14e19b"/>
<ellipse cx="866.1" cy="953.8" rx="7.6" ry="12.0" fill="#28e646"/>
<ellipse cx="866.1" cy="953.8" rx="4.2" ry="6.5" fill="#96f000"/>
</g>
<g filter="url(#fb2)" fill="none" stroke-linecap="butt" stroke-linejoin="round">
<path d="M818.5 955.2L816.7 957.2L815.9 958.0L815.1 958.8L814.3 959.7L813.5 960.5L812.7 961.3L811.9 962.0L811.0 962.8L810.2 963.5L809.2 964.2L808.3 964.9L807.4 965.5L806.4 966.1L805.4 966.6L804.4 967.2L803.4 967.7L802.4 968.3L801.4 968.8L800.4 969.3L799.4 969.9L798.4 970.5L797.5 971.1L796.5 971.8L795.6 972.5L794.8 973.2L793.9 974.0L793.1 974.7L792.3 975.5L791.5 976.3L790.7 977.2L790.1 978.1L789.4 979.0L788.9 980.0L788.4 981.0L788.0 982.0L787.8 983.1L787.5 984.2L787.3 985.3L787.2 986.5L787.0 987.6L786.9 988.7L786.8 989.9L786.7 991.0L786.6 992.1L786.5 993.3L786.4 994.4L786.3 995.6L786.1 996.7L786.0 997.8L785.8 998.9L785.6 1000.1L785.3 1001.2L785.1 1002.3L784.8 1003.4L784.6 1004.5L784.3 1005.6L784.0 1006.7L783.7 1007.8L783.4 1008.9L783.1 1010.0L782.1 1013.3" stroke="#c81400" stroke-width="12.0"/>
<path d="M818.5 955.2L816.7 957.2L815.9 958.0L815.1 958.8L814.3 959.7L813.5 960.5L812.7 961.3L811.9 962.0L811.0 962.8L810.2 963.5L809.2 964.2L808.3 964.9L807.4 965.5L806.4 966.1L805.4 966.6L804.4 967.2L803.4 967.7L802.4 968.3L801.4 968.8L800.4 969.3L799.4 969.9L798.4 970.5L797.5 971.1L796.5 971.8L795.6 972.5L794.8 973.2L793.9 974.0L793.1 974.7L792.3 975.5L791.5 976.3L790.7 977.2L790.1 978.1L789.4 979.0L788.9 980.0L788.4 981.0L788.0 982.0L787.8 983.1L787.5 984.2L787.3 985.3L787.2 986.5L787.0 987.6L786.9 988.7L786.8 989.9L786.7 991.0L786.6 992.1L786.5 993.3L786.4 994.4L786.3 995.6L786.1 996.7L786.0 997.8L785.8 998.9L785.6 1000.1L785.3 1001.2L785.1 1002.3L784.8 1003.4L784.6 1004.5L784.3 1005.6L784.0 1006.7L783.7 1007.8L783.4 1008.9L783.1 1010.0L782.1 1013.3" stroke="#f00a00" stroke-width="9.5"/>
<path d="M809.2 964.2L808.3 964.9L807.4 965.5L806.4 966.1L805.4 966.6L804.4 967.2L803.4 967.7L802.4 968.3L801.4 968.8L800.4 969.3L799.4 969.9L798.4 970.5L797.5 971.1L796.5 971.8" stroke="#f0f000" stroke-width="8.0"/>
<path d="M807.4 965.5L806.4 966.1L805.4 966.6L804.4 967.2L803.4 967.7L802.4 968.3L801.4 968.8L800.4 969.3L799.4 969.9L798.4 970.5L797.5 971.1" stroke="#22d228" stroke-width="6.0"/>
<path d="M793.1 974.7L792.3 975.5L791.5 976.3L790.7 977.2L790.1 978.1L789.4 979.0L788.9 980.0" stroke="#ff8c00" stroke-width="6.0"/>
<path d="M787.2 986.5L787.0 987.6L786.9 988.7L786.8 989.9L786.7 991.0L786.6 992.1L786.5 993.3L786.4 994.4L786.3 995.6L786.1 996.7L786.0 997.8L785.8 998.9L785.6 1000.1L785.3 1001.2L785.1 1002.3L784.8 1003.4" stroke="#f0f000" stroke-width="8.0"/>
<path d="M786.9 988.7L786.8 989.9L786.7 991.0L786.6 992.1L786.5 993.3L786.4 994.4L786.3 995.6L786.1 996.7L786.0 997.8L785.8 998.9L785.6 1000.1L785.3 1001.2" stroke="#22d228" stroke-width="6.0"/>
<path d="M784.6 1004.5L784.3 1005.6L784.0 1006.7L783.7 1007.8L783.4 1008.9" stroke="#ff8c00" stroke-width="5.0"/>
<path d="M861.9 955.2L863.8 957.2L864.5 958.0L865.3 958.8L866.1 959.7L866.9 960.5L867.7 961.3L868.5 962.0L869.4 962.8L870.3 963.5L871.2 964.2L872.1 964.9L873.1 965.5L874.0 966.1L875.0 966.6L876.0 967.2L877.0 967.7L878.0 968.3L879.0 968.8L880.0 969.3L881.0 969.9L882.0 970.5L883.0 971.1L883.9 971.8L884.8 972.5L885.7 973.2L886.5 974.0L887.4 974.7L888.2 975.5L889.0 976.3L889.7 977.2L890.4 978.1L891.0 979.0L891.5 980.0L892.0 981.0L892.4 982.0L892.7 983.1L892.9 984.2L893.1 985.3L893.3 986.5L893.4 987.6L893.5 988.7L893.6 989.9L893.7 991.0L893.8 992.1L893.9 993.3L894.0 994.4L894.1 995.6L894.3 996.7L894.5 997.8L894.7 998.9L894.9 1000.1L895.1 1001.2L895.3 1002.3L895.6 1003.4L895.9 1004.5L896.2 1005.6L896.4 1006.7L896.7 1007.8L897.1 1008.9L897.4 1010.0L898.3 1013.3" stroke="#c81400" stroke-width="12.0"/>
<path d="M861.9 955.2L863.8 957.2L864.5 958.0L865.3 958.8L866.1 959.7L866.9 960.5L867.7 961.3L868.5 962.0L869.4 962.8L870.3 963.5L871.2 964.2L872.1 964.9L873.1 965.5L874.0 966.1L875.0 966.6L876.0 967.2L877.0 967.7L878.0 968.3L879.0 968.8L880.0 969.3L881.0 969.9L882.0 970.5L883.0 971.1L883.9 971.8L884.8 972.5L885.7 973.2L886.5 974.0L887.4 974.7L888.2 975.5L889.0 976.3L889.7 977.2L890.4 978.1L891.0 979.0L891.5 980.0L892.0 981.0L892.4 982.0L892.7 983.1L892.9 984.2L893.1 985.3L893.3 986.5L893.4 987.6L893.5 988.7L893.6 989.9L893.7 991.0L893.8 992.1L893.9 993.3L894.0 994.4L894.1 995.6L894.3 996.7L894.5 997.8L894.7 998.9L894.9 1000.1L895.1 1001.2L895.3 1002.3L895.6 1003.4L895.9 1004.5L896.2 1005.6L896.4 1006.7L896.7 1007.8L897.1 1008.9L897.4 1010.0L898.3 1013.3" stroke="#f00a00" stroke-width="9.5"/>
<path d="M871.2 964.2L872.1 964.9L873.1 965.5L874.0 966.1L875.0 966.6L876.0 967.2L877.0 967.7L878.0 968.3L879.0 968.8L880.0 969.3L881.0 969.9L882.0 970.5L883.0 971.1L883.9 971.8" stroke="#f0f000" stroke-width="8.0"/>
<path d="M873.1 965.5L874.0 966.1L875.0 966.6L876.0 967.2L877.0 967.7L878.0 968.3L879.0 968.8L880.0 969.3L881.0 969.9L882.0 970.5L883.0 971.1" stroke="#22d228" stroke-width="6.0"/>
<path d="M887.4 974.7L888.2 975.5L889.0 976.3L889.7 977.2L890.4 978.1L891.0 979.0L891.5 980.0" stroke="#ff8c00" stroke-width="6.0"/>
<path d="M893.3 986.5L893.4 987.6L893.5 988.7L893.6 989.9L893.7 991.0L893.8 992.1L893.9 993.3L894.0 994.4L894.1 995.6L894.3 996.7L894.5 997.8L894.7 998.9L894.9 1000.1L895.1 1001.2L895.3 1002.3L895.6 1003.4" stroke="#f0f000" stroke-width="8.0"/>
<path d="M893.5 988.7L893.6 989.9L893.7 991.0L893.8 992.1L893.9 993.3L894.0 994.4L894.1 995.6L894.3 996.7L894.5 997.8L894.7 998.9L894.9 1000.1L895.1 1001.2" stroke="#22d228" stroke-width="6.0"/>
<path d="M895.9 1004.5L896.2 1005.6L896.4 1006.7L896.7 1007.8L897.1 1008.9" stroke="#ff8c00" stroke-width="5.0"/>
</g>
<path d="M840.3 896.7V1070.3" stroke="#0a1a90" stroke-width="0.9" opacity="0.8"/>
</g>
<clipPath id="fc3"><path d="M1016.7 911.4L1172.8 911.4L1172.8 950.4L1121.4 950.4L1121.4 967.0L1123.8 968.8L1126.4 970.0L1129.2 970.7L1132.2 971.2L1135.1 971.1L1138.0 970.9L1141.0 970.7L1143.9 970.6L1146.8 971.0L1149.5 972.0L1151.8 973.9L1153.9 975.9L1155.5 978.4L1156.5 981.2L1157.0 984.1L1157.0 987.0L1156.9 989.9L1156.5 992.8L1155.9 995.7L1155.4 998.5L1154.9 1001.5L1154.6 1004.4L1155.1 1007.1L1174.7 1007.1L1172.8 1071.3L1016.7 1071.3L1015.2 1007.1L1034.8 1007.1L1035.3 1004.4L1035.0 1001.5L1034.6 998.5L1034.1 995.7L1033.5 992.8L1033.0 989.9L1032.9 987.0L1032.9 984.1L1033.5 981.2L1034.5 978.4L1036.1 975.9L1038.1 973.9L1040.5 972.0L1043.2 971.0L1046.1 970.6L1049.0 970.7L1051.9 970.9L1054.9 971.1L1057.8 971.2L1060.7 970.7L1063.6 970.0L1066.2 968.8L1068.5 967.0L1068.5 950.4L1016.7 950.4ZM1073.8 976.7L1116.1 976.7L1118.7 977.7L1121.4 978.5L1124.1 979.1L1126.8 979.6L1129.6 980.1L1132.4 980.3L1135.2 980.3L1138.0 980.3L1140.8 980.3L1143.5 980.4L1145.8 981.9L1146.9 984.5L1147.3 987.2L1147.3 990.0L1147.0 992.8L1146.4 995.5L1145.8 998.3L1145.4 1001.0L1145.8 1003.7L1146.4 1006.5L1146.9 1009.2L1147.2 1012.0L1147.5 1014.8L1147.1 1031.5L1043.0 1031.5L1042.4 1014.8L1042.7 1012.0L1043.1 1009.2L1043.5 1006.5L1044.2 1003.7L1044.5 1001.0L1044.1 998.3L1043.5 995.5L1042.9 992.8L1042.7 990.0L1042.7 987.2L1043.0 984.5L1044.1 981.9L1046.5 980.4L1049.2 980.3L1051.9 980.3L1054.8 980.3L1057.6 980.3L1060.4 980.1L1063.1 979.6L1065.9 979.1L1068.6 978.5L1071.2 977.7Z" clip-rule="evenodd"/></clipPath>
<g clip-path="url(#fc3)">
<rect x="1013.7" y="908.4" width="162.1" height="165.9" fill="#0000cc"/>
<g filter="url(#fb)">
<rect x="1011.2" y="1006.1" width="167.5" height="70.1" fill="#1edcdc"/>
<rect x="1023.4" y="1024.3" width="142.8" height="62.2" rx="13.3" fill="#1e96e6"/>
<rect x="1028.2" y="1037.6" width="133.2" height="48.9" rx="11.4" fill="#0a50dc"/>
<ellipse cx="1094.8" cy="1055.7" rx="48.5" ry="9.1" fill="#0000cc"/>
<path d="M1015.2 1006.2L1033.3 1006.2L1015.2 1023.3Z" fill="#0a50dc"/>
<path d="M1015.2 1006.2L1026.6 1006.2L1015.2 1016.7Z" fill="#0000cc"/>
<path d="M1174.7 1006.2L1156.6 1006.2L1174.7 1023.3Z" fill="#0a50dc"/>
<path d="M1174.7 1006.2L1163.3 1006.2L1174.7 1016.7Z" fill="#0000cc"/>
<ellipse cx="1036.7" cy="1013.8" rx="7.6" ry="10.5" fill="#28e646"/>
<ellipse cx="1153.2" cy="1013.8" rx="7.6" ry="10.5" fill="#28e646"/>
<ellipse cx="1081.3" cy="960.9" rx="12.9" ry="20.0" fill="#0a50dc"/>
<ellipse cx="1108.7" cy="960.9" rx="12.9" ry="20.0" fill="#0a50dc"/>
<rect x="1090.8" y="942.8" width="8.4" height="33.9" fill="#0000cc" opacity="0.55"/>
<ellipse cx="1068.9" cy="969.1" rx="14.9" ry="18.8" fill="#1e96e6"/>
<ellipse cx="1068.9" cy="969.1" rx="11.2" ry="14.8" fill="#1edcdc"/>
<ellipse cx="1068.9" cy="969.1" rx="9.1" ry="12.1" fill="#14e19b"/>
<ellipse cx="1068.9" cy="969.1" rx="7.0" ry="9.3" fill="#28e646"/>
<ellipse cx="1068.9" cy="969.1" rx="3.9" ry="5.0" fill="#96f000"/>
<ellipse cx="1121.1" cy="969.1" rx="14.9" ry="18.8" fill="#1e96e6"/>
<ellipse cx="1121.1" cy="969.1" rx="11.2" ry="14.8" fill="#1edcdc"/>
<ellipse cx="1121.1" cy="969.1" rx="9.1" ry="12.1" fill="#14e19b"/>
<ellipse cx="1121.1" cy="969.1" rx="7.0" ry="9.3" fill="#28e646"/>
<ellipse cx="1121.1" cy="969.1" rx="3.9" ry="5.0" fill="#96f000"/>
</g>
<g filter="url(#fb2)" fill="none" stroke-linecap="butt" stroke-linejoin="round">
<path d="M1073.5 970.5L1071.2 971.8L1070.2 972.4L1069.3 972.9L1068.3 973.4L1067.2 973.8L1066.2 974.2L1065.1 974.5L1064.0 974.7L1062.9 975.0L1061.9 975.2L1060.8 975.3L1059.7 975.4L1058.5 975.5L1057.4 975.6L1056.3 975.6L1055.2 975.6L1054.1 975.6L1053.0 975.5L1051.9 975.5L1050.8 975.5L1049.7 975.5L1048.5 975.5L1047.4 975.6L1046.3 975.6L1045.2 975.8L1044.2 976.1L1043.2 976.4L1042.2 977.1L1041.3 977.7L1040.7 978.6L1040.1 979.5L1039.5 980.4L1039.1 981.4L1038.7 982.4L1038.5 983.5L1038.3 984.6L1038.1 985.7L1038.0 986.8L1038.0 987.9L1038.0 989.0L1038.1 990.1L1038.2 991.2L1038.3 992.3L1038.5 993.4L1038.6 994.5L1038.8 995.6L1039.0 996.7L1039.0 997.8L1039.1 998.9L1039.1 1000.0L1039.1 1001.0L1039.1 1002.1L1039.0 1003.2L1039.0 1004.3L1039.0 1005.4L1039.0 1006.5L1039.0 1007.6L1039.0 1008.7L1038.8 1009.8L1038.6 1011.0L1038.1 1014.3" stroke="#c81400" stroke-width="12.0"/>
<path d="M1073.5 970.5L1071.2 971.8L1070.2 972.4L1069.3 972.9L1068.3 973.4L1067.2 973.8L1066.2 974.2L1065.1 974.5L1064.0 974.7L1062.9 975.0L1061.9 975.2L1060.8 975.3L1059.7 975.4L1058.5 975.5L1057.4 975.6L1056.3 975.6L1055.2 975.6L1054.1 975.6L1053.0 975.5L1051.9 975.5L1050.8 975.5L1049.7 975.5L1048.5 975.5L1047.4 975.6L1046.3 975.6L1045.2 975.8L1044.2 976.1L1043.2 976.4L1042.2 977.1L1041.3 977.7L1040.7 978.6L1040.1 979.5L1039.5 980.4L1039.1 981.4L1038.7 982.4L1038.5 983.5L1038.3 984.6L1038.1 985.7L1038.0 986.8L1038.0 987.9L1038.0 989.0L1038.1 990.1L1038.2 991.2L1038.3 992.3L1038.5 993.4L1038.6 994.5L1038.8 995.6L1039.0 996.7L1039.0 997.8L1039.1 998.9L1039.1 1000.0L1039.1 1001.0L1039.1 1002.1L1039.0 1003.2L1039.0 1004.3L1039.0 1005.4L1039.0 1006.5L1039.0 1007.6L1039.0 1008.7L1038.8 1009.8L1038.6 1011.0L1038.1 1014.3" stroke="#f00a00" stroke-width="9.5"/>
<path d="M1065.1 974.5L1064.0 974.7L1062.9 975.0L1061.9 975.2L1060.8 975.3L1059.7 975.4L1058.5 975.5L1057.4 975.6L1056.3 975.6L1055.2 975.6L1054.1 975.6L1053.0 975.5L1051.9 975.5L1050.8 975.5L1049.7 975.5L1048.5 975.5" stroke="#f0f000" stroke-width="8.0"/>
<path d="M1062.9 975.0L1061.9 975.2L1060.8 975.3L1059.7 975.4L1058.5 975.5L1057.4 975.6L1056.3 975.6L1055.2 975.6L1054.1 975.6L1053.0 975.5L1051.9 975.5L1050.8 975.5L1049.7 975.5" stroke="#22d228" stroke-width="6.5"/>
<path d="M1044.2 976.1L1043.2 976.4L1042.2 977.1L1041.3 977.7L1040.7 978.6" stroke="#ff8c00" stroke-width="6.0"/>
<path d="M1038.7 982.4L1038.5 983.5L1038.3 984.6L1038.1 985.7L1038.0 986.8L1038.0 987.9L1038.0 989.0L1038.1 990.1L1038.2 991.2L1038.3 992.3L1038.5 993.4L1038.6 994.5L1038.8 995.6L1039.0 996.7L1039.0 997.8L1039.1 998.9L1039.1 1000.0" stroke="#f0f000" stroke-width="8.0"/>
<path d="M1038.3 984.6L1038.1 985.7L1038.0 986.8L1038.0 987.9L1038.0 989.0L1038.1 990.1L1038.2 991.2L1038.3 992.3L1038.5 993.4L1038.6 994.5L1038.8 995.6L1039.0 996.7L1039.0 997.8L1039.1 998.9" stroke="#22d228" stroke-width="6.5"/>
<path d="M1039.1 1002.1L1039.0 1003.2L1039.0 1004.3L1039.0 1005.4L1039.0 1006.5" stroke="#ff8c00" stroke-width="6.0"/>
<path d="M1116.5 970.5L1118.8 971.8L1119.7 972.4L1120.7 972.9L1121.7 973.4L1122.7 973.8L1123.8 974.2L1124.8 974.5L1125.9 974.7L1127.0 975.0L1128.1 975.2L1129.2 975.3L1130.3 975.4L1131.4 975.5L1132.5 975.6L1133.6 975.6L1134.7 975.6L1135.8 975.6L1137.0 975.5L1138.1 975.5L1139.2 975.5L1140.3 975.5L1141.4 975.5L1142.5 975.6L1143.6 975.6L1144.7 975.8L1145.8 976.1L1146.8 976.4L1147.7 977.1L1148.6 977.7L1149.3 978.6L1149.9 979.5L1150.5 980.4L1150.8 981.4L1151.2 982.4L1151.5 983.5L1151.7 984.6L1151.9 985.7L1151.9 986.8L1152.0 987.9L1152.0 989.0L1151.9 990.1L1151.7 991.2L1151.6 992.3L1151.5 993.4L1151.3 994.5L1151.2 995.6L1151.0 996.7L1150.9 997.8L1150.9 998.9L1150.8 1000.0L1150.9 1001.0L1150.9 1002.1L1150.9 1003.2L1150.9 1004.3L1150.9 1005.4L1150.9 1006.5L1150.9 1007.6L1151.0 1008.7L1151.2 1009.8L1151.3 1011.0L1151.8 1014.3" stroke="#c81400" stroke-width="12.0"/>
<path d="M1116.5 970.5L1118.8 971.8L1119.7 972.4L1120.7 972.9L1121.7 973.4L1122.7 973.8L1123.8 974.2L1124.8 974.5L1125.9 974.7L1127.0 975.0L1128.1 975.2L1129.2 975.3L1130.3 975.4L1131.4 975.5L1132.5 975.6L1133.6 975.6L1134.7 975.6L1135.8 975.6L1137.0 975.5L1138.1 975.5L1139.2 975.5L1140.3 975.5L1141.4 975.5L1142.5 975.6L1143.6 975.6L1144.7 975.8L1145.8 976.1L1146.8 976.4L1147.7 977.1L1148.6 977.7L1149.3 978.6L1149.9 979.5L1150.5 980.4L1150.8 981.4L1151.2 982.4L1151.5 983.5L1151.7 984.6L1151.9 985.7L1151.9 986.8L1152.0 987.9L1152.0 989.0L1151.9 990.1L1151.7 991.2L1151.6 992.3L1151.5 993.4L1151.3 994.5L1151.2 995.6L1151.0 996.7L1150.9 997.8L1150.9 998.9L1150.8 1000.0L1150.9 1001.0L1150.9 1002.1L1150.9 1003.2L1150.9 1004.3L1150.9 1005.4L1150.9 1006.5L1150.9 1007.6L1151.0 1008.7L1151.2 1009.8L1151.3 1011.0L1151.8 1014.3" stroke="#f00a00" stroke-width="9.5"/>
<path d="M1124.8 974.5L1125.9 974.7L1127.0 975.0L1128.1 975.2L1129.2 975.3L1130.3 975.4L1131.4 975.5L1132.5 975.6L1133.6 975.6L1134.7 975.6L1135.8 975.6L1137.0 975.5L1138.1 975.5L1139.2 975.5L1140.3 975.5L1141.4 975.5" stroke="#f0f000" stroke-width="8.0"/>
<path d="M1127.0 975.0L1128.1 975.2L1129.2 975.3L1130.3 975.4L1131.4 975.5L1132.5 975.6L1133.6 975.6L1134.7 975.6L1135.8 975.6L1137.0 975.5L1138.1 975.5L1139.2 975.5L1140.3 975.5" stroke="#22d228" stroke-width="6.5"/>
<path d="M1145.8 976.1L1146.8 976.4L1147.7 977.1L1148.6 977.7L1149.3 978.6" stroke="#ff8c00" stroke-width="6.0"/>
<path d="M1151.2 982.4L1151.5 983.5L1151.7 984.6L1151.9 985.7L1151.9 986.8L1152.0 987.9L1152.0 989.0L1151.9 990.1L1151.7 991.2L1151.6 992.3L1151.5 993.4L1151.3 994.5L1151.2 995.6L1151.0 996.7L1150.9 997.8L1150.9 998.9L1150.8 1000.0" stroke="#f0f000" stroke-width="8.0"/>
<path d="M1151.7 984.6L1151.9 985.7L1151.9 986.8L1152.0 987.9L1152.0 989.0L1151.9 990.1L1151.7 991.2L1151.6 992.3L1151.5 993.4L1151.3 994.5L1151.2 995.6L1151.0 996.7L1150.9 997.8L1150.9 998.9" stroke="#22d228" stroke-width="6.5"/>
<path d="M1150.9 1002.1L1150.9 1003.2L1150.9 1004.3L1150.9 1005.4L1150.9 1006.5" stroke="#ff8c00" stroke-width="6.0"/>
</g>
<path d="M1095.0 911.4V1071.3" stroke="#0a1a90" stroke-width="0.9" opacity="0.8"/>
</g>
<clipPath id="fc4"><path d="M1266.8 922.4L1425.2 922.4L1425.2 961.8L1372.4 961.8L1372.4 977.8L1374.9 980.3L1377.5 981.0L1380.2 980.0L1383.0 978.3L1385.8 976.7L1388.5 975.2L1391.2 973.8L1394.0 972.6L1397.0 971.5L1400.0 971.0L1402.9 971.8L1405.3 973.7L1407.4 976.1L1408.8 978.8L1409.6 981.8L1409.4 984.8L1409.3 987.9L1409.0 991.0L1408.6 994.0L1408.1 997.1L1407.7 1000.2L1407.7 1003.2L1408.6 1006.2L1427.3 1006.2L1424.8 1070.9L1267.2 1070.9L1264.3 1006.2L1283.9 1006.2L1284.8 1003.2L1284.8 1000.2L1284.4 997.1L1283.9 994.0L1283.5 991.0L1283.3 987.9L1283.1 984.8L1283.0 981.8L1283.7 978.8L1285.2 976.1L1287.2 973.7L1289.6 971.8L1292.6 971.0L1295.6 971.5L1298.5 972.6L1301.3 973.8L1304.0 975.2L1306.8 976.7L1309.5 978.3L1312.3 980.0L1315.0 981.0L1317.6 980.3L1320.1 977.8L1320.1 961.8L1266.8 961.8ZM1324.8 988.5L1367.1 988.5L1370.0 988.8L1372.9 989.0L1375.7 989.0L1378.4 989.1L1381.1 988.8L1383.6 987.5L1386.2 986.1L1388.7 984.8L1391.2 983.3L1393.7 982.1L1396.4 981.4L1398.9 982.3L1399.6 985.0L1399.7 987.9L1399.4 990.6L1398.8 993.4L1398.4 996.2L1397.9 999.0L1397.5 1001.8L1397.4 1004.6L1397.6 1007.3L1398.2 1010.1L1399.1 1012.9L1399.5 1030.4L1292.9 1030.4L1292.9 1012.9L1293.7 1010.1L1294.3 1007.3L1294.6 1004.6L1294.5 1001.8L1294.0 999.0L1293.6 996.2L1293.2 993.4L1292.5 990.6L1292.3 987.9L1292.4 985.0L1293.1 982.3L1295.5 981.4L1298.3 982.1L1300.8 983.3L1303.2 984.8L1305.8 986.1L1308.3 987.5L1310.9 988.8L1313.6 989.1L1316.3 989.0L1319.1 989.0L1321.9 988.8Z" clip-rule="evenodd"/></clipPath>
<g clip-path="url(#fc4)">
<rect x="1263.8" y="919.4" width="164.4" height="154.5" fill="#0000cc"/>
<g filter="url(#fb)">
<rect x="1260.3" y="1005.2" width="170.9" height="70.7" fill="#1edcdc"/>
<rect x="1273.5" y="1022.4" width="144.7" height="63.8" rx="13.3" fill="#1e96e6"/>
<rect x="1276.3" y="1038.6" width="139.0" height="47.6" rx="11.4" fill="#0a50dc"/>
<ellipse cx="1345.8" cy="1052.8" rx="46.6" ry="5.7" fill="#0000cc"/>
<path d="M1264.3 1005.2L1282.4 1005.2L1264.3 1022.4Z" fill="#0a50dc"/>
<path d="M1264.3 1005.2L1275.7 1005.2L1264.3 1015.7Z" fill="#0000cc"/>
<path d="M1427.3 1005.2L1409.2 1005.2L1427.3 1022.4Z" fill="#0a50dc"/>
<path d="M1427.3 1005.2L1415.8 1005.2L1427.3 1015.7Z" fill="#0000cc"/>
<ellipse cx="1285.8" cy="1012.9" rx="7.6" ry="10.5" fill="#28e646"/>
<ellipse cx="1406.7" cy="1012.9" rx="7.6" ry="10.5" fill="#28e646"/>
<ellipse cx="1332.6" cy="972.3" rx="12.9" ry="20.0" fill="#0a50dc"/>
<ellipse cx="1360.0" cy="972.3" rx="12.9" ry="20.0" fill="#0a50dc"/>
<rect x="1342.1" y="954.2" width="8.4" height="34.3" fill="#0000cc" opacity="0.55"/>
<ellipse cx="1320.5" cy="980.5" rx="14.9" ry="18.8" fill="#1e96e6"/>
<ellipse cx="1320.5" cy="980.5" rx="11.2" ry="14.8" fill="#1edcdc"/>
<ellipse cx="1320.5" cy="980.5" rx="9.1" ry="12.1" fill="#14e19b"/>
<ellipse cx="1320.5" cy="980.5" rx="7.0" ry="9.3" fill="#28e646"/>
<ellipse cx="1320.5" cy="980.5" rx="3.9" ry="5.0" fill="#96f000"/>
<ellipse cx="1372.1" cy="980.5" rx="14.9" ry="18.8" fill="#1e96e6"/>
<ellipse cx="1372.1" cy="980.5" rx="11.2" ry="14.8" fill="#1edcdc"/>
<ellipse cx="1372.1" cy="980.5" rx="9.1" ry="12.1" fill="#14e19b"/>
<ellipse cx="1372.1" cy="980.5" rx="7.0" ry="9.3" fill="#28e646"/>
<ellipse cx="1372.1" cy="980.5" rx="3.9" ry="5.0" fill="#96f000"/>
</g>
<g filter="url(#fb2)" fill="none" stroke-linecap="butt" stroke-linejoin="round">
<path d="M1324.8 982.0L1322.5 983.2L1321.5 983.6L1320.5 984.1L1319.5 984.6L1318.4 984.8L1317.3 985.0L1316.2 984.8L1315.1 984.6L1314.0 984.4L1312.9 984.1L1311.8 983.8L1310.8 983.4L1309.7 983.0L1308.7 982.6L1307.6 982.1L1306.6 981.6L1305.6 981.1L1304.6 980.5L1303.6 980.0L1302.5 979.5L1301.5 979.0L1300.5 978.5L1299.4 978.0L1298.4 977.5L1297.3 977.1L1296.2 976.8L1295.1 976.6L1294.0 976.6L1292.9 976.6L1291.9 977.0L1290.9 977.6L1290.1 978.2L1289.5 979.2L1289.0 980.2L1288.6 981.3L1288.3 982.3L1288.0 983.4L1287.9 984.5L1287.8 985.7L1287.8 986.8L1288.0 987.9L1288.1 989.1L1288.2 990.2L1288.4 991.4L1288.5 992.5L1288.6 993.6L1288.7 994.8L1288.9 995.9L1289.1 997.1L1289.2 998.2L1289.3 999.4L1289.5 1000.5L1289.5 1001.6L1289.5 1002.8L1289.5 1003.9L1289.4 1005.1L1289.3 1006.2L1289.1 1007.3L1288.7 1008.4L1288.4 1009.5L1287.4 1012.8" stroke="#c81400" stroke-width="12.0"/>
<path d="M1324.8 982.0L1322.5 983.2L1321.5 983.6L1320.5 984.1L1319.5 984.6L1318.4 984.8L1317.3 985.0L1316.2 984.8L1315.1 984.6L1314.0 984.4L1312.9 984.1L1311.8 983.8L1310.8 983.4L1309.7 983.0L1308.7 982.6L1307.6 982.1L1306.6 981.6L1305.6 981.1L1304.6 980.5L1303.6 980.0L1302.5 979.5L1301.5 979.0L1300.5 978.5L1299.4 978.0L1298.4 977.5L1297.3 977.1L1296.2 976.8L1295.1 976.6L1294.0 976.6L1292.9 976.6L1291.9 977.0L1290.9 977.6L1290.1 978.2L1289.5 979.2L1289.0 980.2L1288.6 981.3L1288.3 982.3L1288.0 983.4L1287.9 984.5L1287.8 985.7L1287.8 986.8L1288.0 987.9L1288.1 989.1L1288.2 990.2L1288.4 991.4L1288.5 992.5L1288.6 993.6L1288.7 994.8L1288.9 995.9L1289.1 997.1L1289.2 998.2L1289.3 999.4L1289.5 1000.5L1289.5 1001.6L1289.5 1002.8L1289.5 1003.9L1289.4 1005.1L1289.3 1006.2L1289.1 1007.3L1288.7 1008.4L1288.4 1009.5L1287.4 1012.8" stroke="#f00a00" stroke-width="9.5"/>
<path d="M1321.5 983.6L1320.5 984.1L1319.5 984.6L1318.4 984.8" stroke="#ff8c00" stroke-width="5.0"/>
<path d="M1316.2 984.8L1315.1 984.6L1314.0 984.4L1312.9 984.1L1311.8 983.8L1310.8 983.4L1309.7 983.0L1308.7 982.6L1307.6 982.1L1306.6 981.6L1305.6 981.1L1304.6 980.5L1303.6 980.0L1302.5 979.5L1301.5 979.0L1300.5 978.5L1299.4 978.0" stroke="#f0f000" stroke-width="9.0"/>
<path d="M1316.2 984.8L1315.1 984.6L1314.0 984.4L1312.9 984.1L1311.8 983.8L1310.8 983.4L1309.7 983.0L1308.7 982.6L1307.6 982.1L1306.6 981.6L1305.6 981.1L1304.6 980.5L1303.6 980.0L1302.5 979.5L1301.5 979.0L1300.5 978.5" stroke="#22d228" stroke-width="8.0"/>
<path d="M1310.8 983.4L1309.7 983.0L1308.7 982.6L1307.6 982.1L1306.6 981.6L1305.6 981.1L1304.6 980.5" stroke="#96f000" stroke-width="4.0"/>
<path d="M1295.1 976.6L1294.0 976.6L1292.9 976.6L1291.9 977.0" stroke="#ff8c00" stroke-width="6.0"/>
<path d="M1288.6 981.3L1288.3 982.3L1288.0 983.4L1287.9 984.5L1287.8 985.7L1287.8 986.8L1288.0 987.9L1288.1 989.1L1288.2 990.2L1288.4 991.4L1288.5 992.5L1288.6 993.6L1288.7 994.8L1288.9 995.9L1289.1 997.1L1289.2 998.2L1289.3 999.4L1289.5 1000.5" stroke="#f0f000" stroke-width="9.0"/>
<path d="M1288.6 981.3L1288.3 982.3L1288.0 983.4L1287.9 984.5L1287.8 985.7L1287.8 986.8L1288.0 987.9L1288.1 989.1L1288.2 990.2L1288.4 991.4L1288.5 992.5L1288.6 993.6L1288.7 994.8L1288.9 995.9L1289.1 997.1L1289.2 998.2L1289.3 999.4" stroke="#22d228" stroke-width="8.0"/>
<path d="M1287.8 986.8L1288.0 987.9L1288.1 989.1L1288.2 990.2L1288.4 991.4L1288.5 992.5L1288.6 993.6" stroke="#96f000" stroke-width="4.0"/>
<path d="M1289.5 1002.8L1289.5 1003.9L1289.4 1005.1L1289.3 1006.2" stroke="#ff8c00" stroke-width="6.0"/>
<path d="M1367.4 982.0L1369.8 983.2L1370.7 983.6L1371.7 984.1L1372.7 984.6L1373.8 984.8L1375.0 985.0L1376.1 984.8L1377.2 984.6L1378.3 984.4L1379.3 984.1L1380.4 983.8L1381.5 983.4L1382.5 983.0L1383.6 982.6L1384.6 982.1L1385.6 981.6L1386.6 981.1L1387.7 980.5L1388.7 980.0L1389.7 979.5L1390.7 979.0L1391.8 978.5L1392.8 978.0L1393.8 977.5L1394.9 977.1L1396.0 976.8L1397.1 976.6L1398.2 976.6L1399.3 976.6L1400.3 977.0L1401.3 977.6L1402.2 978.2L1402.7 979.2L1403.3 980.2L1403.6 981.3L1403.9 982.3L1404.2 983.4L1404.3 984.5L1404.4 985.7L1404.4 986.8L1404.3 987.9L1404.1 989.1L1404.0 990.2L1403.9 991.4L1403.8 992.5L1403.6 993.6L1403.5 994.8L1403.3 995.9L1403.2 997.1L1403.0 998.2L1402.9 999.4L1402.8 1000.5L1402.7 1001.6L1402.7 1002.8L1402.7 1003.9L1402.8 1005.1L1402.9 1006.2L1403.2 1007.3L1403.5 1008.4L1403.8 1009.5L1404.8 1012.8" stroke="#c81400" stroke-width="12.0"/>
<path d="M1367.4 982.0L1369.8 983.2L1370.7 983.6L1371.7 984.1L1372.7 984.6L1373.8 984.8L1375.0 985.0L1376.1 984.8L1377.2 984.6L1378.3 984.4L1379.3 984.1L1380.4 983.8L1381.5 983.4L1382.5 983.0L1383.6 982.6L1384.6 982.1L1385.6 981.6L1386.6 981.1L1387.7 980.5L1388.7 980.0L1389.7 979.5L1390.7 979.0L1391.8 978.5L1392.8 978.0L1393.8 977.5L1394.9 977.1L1396.0 976.8L1397.1 976.6L1398.2 976.6L1399.3 976.6L1400.3 977.0L1401.3 977.6L1402.2 978.2L1402.7 979.2L1403.3 980.2L1403.6 981.3L1403.9 982.3L1404.2 983.4L1404.3 984.5L1404.4 985.7L1404.4 986.8L1404.3 987.9L1404.1 989.1L1404.0 990.2L1403.9 991.4L1403.8 992.5L1403.6 993.6L1403.5 994.8L1403.3 995.9L1403.2 997.1L1403.0 998.2L1402.9 999.4L1402.8 1000.5L1402.7 1001.6L1402.7 1002.8L1402.7 1003.9L1402.8 1005.1L1402.9 1006.2L1403.2 1007.3L1403.5 1008.4L1403.8 1009.5L1404.8 1012.8" stroke="#f00a00" stroke-width="9.5"/>
<path d="M1370.7 983.6L1371.7 984.1L1372.7 984.6L1373.8 984.8" stroke="#ff8c00" stroke-width="5.0"/>
<path d="M1376.1 984.8L1377.2 984.6L1378.3 984.4L1379.3 984.1L1380.4 983.8L1381.5 983.4L1382.5 983.0L1383.6 982.6L1384.6 982.1L1385.6 981.6L1386.6 981.1L1387.7 980.5L1388.7 980.0L1389.7 979.5L1390.7 979.0L1391.8 978.5L1392.8 978.0" stroke="#f0f000" stroke-width="9.0"/>
<path d="M1376.1 984.8L1377.2 984.6L1378.3 984.4L1379.3 984.1L1380.4 983.8L1381.5 983.4L1382.5 983.0L1383.6 982.6L1384.6 982.1L1385.6 981.6L1386.6 981.1L1387.7 980.5L1388.7 980.0L1389.7 979.5L1390.7 979.0L1391.8 978.5" stroke="#22d228" stroke-width="8.0"/>
<path d="M1381.5 983.4L1382.5 983.0L1383.6 982.6L1384.6 982.1L1385.6 981.6L1386.6 981.1L1387.7 980.5" stroke="#96f000" stroke-width="4.0"/>
<path d="M1397.1 976.6L1398.2 976.6L1399.3 976.6L1400.3 977.0" stroke="#ff8c00" stroke-width="6.0"/>
<path d="M1403.6 981.3L1403.9 982.3L1404.2 983.4L1404.3 984.5L1404.4 985.7L1404.4 986.8L1404.3 987.9L1404.1 989.1L1404.0 990.2L1403.9 991.4L1403.8 992.5L1403.6 993.6L1403.5 994.8L1403.3 995.9L1403.2 997.1L1403.0 998.2L1402.9 999.4L1402.8 1000.5" stroke="#f0f000" stroke-width="9.0"/>
<path d="M1403.6 981.3L1403.9 982.3L1404.2 983.4L1404.3 984.5L1404.4 985.7L1404.4 986.8L1404.3 987.9L1404.1 989.1L1404.0 990.2L1403.9 991.4L1403.8 992.5L1403.6 993.6L1403.5 994.8L1403.3 995.9L1403.2 997.1L1403.0 998.2L1402.9 999.4" stroke="#22d228" stroke-width="8.0"/>
<path d="M1404.4 986.8L1404.3 987.9L1404.1 989.1L1404.0 990.2L1403.9 991.4L1403.8 992.5L1403.6 993.6" stroke="#96f000" stroke-width="4.0"/>
<path d="M1402.7 1002.8L1402.7 1003.9L1402.8 1005.1L1402.9 1006.2" stroke="#ff8c00" stroke-width="6.0"/>
</g>
<path d="M1346.3 922.4V1070.9" stroke="#0a1a90" stroke-width="0.9" opacity="0.8"/>
</g>
<clipPath id="fc5"><path d="M1520.2 932.9L1679.7 932.9L1679.7 972.5L1626.4 972.5L1626.4 989.3L1628.7 990.7L1630.8 989.1L1632.8 986.3L1634.9 983.5L1637.0 981.1L1639.1 978.8L1641.3 976.6L1643.7 974.8L1646.5 973.2L1649.4 972.7L1652.5 973.1L1655.4 974.3L1657.7 976.2L1659.5 978.8L1660.6 981.6L1661.0 984.7L1661.0 987.8L1661.0 990.9L1660.9 994.0L1660.7 997.0L1660.7 1000.1L1661.0 1003.2L1661.6 1006.2L1680.6 1006.2L1679.1 1071.3L1520.2 1071.3L1518.8 1006.2L1537.9 1006.2L1538.5 1003.2L1538.8 1000.1L1538.8 997.0L1538.6 994.0L1538.4 990.9L1538.4 987.8L1538.5 984.7L1538.9 981.6L1540.0 978.8L1541.8 976.2L1544.1 974.3L1547.0 973.1L1550.1 972.7L1553.0 973.2L1555.8 974.8L1558.2 976.6L1560.4 978.8L1562.5 981.1L1564.6 983.5L1566.6 986.3L1568.7 989.1L1570.8 990.7L1573.1 989.3L1573.1 972.5L1520.2 972.5ZM1577.8 999.1L1621.6 999.1L1624.7 999.1L1627.6 999.0L1630.4 998.9L1633.1 998.7L1635.7 997.3L1638.0 995.5L1640.0 993.5L1641.8 991.2L1643.6 988.9L1645.6 986.7L1647.6 984.0L1649.6 982.8L1651.2 985.2L1651.5 988.1L1651.6 991.0L1651.7 993.9L1651.6 996.8L1651.4 999.7L1651.3 1002.5L1651.6 1005.4L1652.0 1008.3L1652.6 1011.1L1653.6 1013.8L1652.5 1030.4L1546.4 1030.4L1545.9 1013.8L1546.9 1011.1L1547.5 1008.3L1547.9 1005.4L1548.1 1002.5L1548.1 999.7L1547.9 996.8L1547.8 993.9L1547.8 991.0L1548.0 988.1L1548.3 985.2L1549.9 982.8L1551.9 984.0L1553.9 986.7L1555.8 988.9L1557.7 991.2L1559.5 993.5L1561.5 995.5L1563.8 997.3L1566.4 998.7L1569.0 998.9L1571.8 999.0L1574.8 999.1Z" clip-rule="evenodd"/></clipPath>
<g clip-path="url(#fc5)">
<rect x="1517.2" y="929.9" width="165.5" height="144.4" fill="#0000cc"/>
<g filter="url(#fb)">
<rect x="1514.8" y="1005.2" width="169.8" height="71.1" fill="#1e96e6"/>
<rect x="1529.3" y="1034.7" width="140.9" height="51.8" rx="15.2" fill="#0a50dc"/>
<ellipse cx="1599.7" cy="1052.8" rx="58.1" ry="9.1" fill="#0000cc"/>
<ellipse cx="1537.9" cy="1068.1" rx="6.1" ry="9.5" fill="#0000cc"/>
<ellipse cx="1661.6" cy="1068.1" rx="6.1" ry="9.5" fill="#0000cc"/>
<path d="M1518.8 1005.2L1536.9 1005.2L1518.8 1022.4Z" fill="#0a50dc"/>
<path d="M1518.8 1005.2L1530.3 1005.2L1518.8 1015.7Z" fill="#0000cc"/>
<path d="M1680.6 1005.2L1662.6 1005.2L1680.6 1022.4Z" fill="#0a50dc"/>
<path d="M1680.6 1005.2L1669.2 1005.2L1680.6 1015.7Z" fill="#0000cc"/>
<ellipse cx="1539.8" cy="1012.9" rx="7.6" ry="10.5" fill="#14e19b"/>
<ellipse cx="1659.7" cy="1012.9" rx="7.6" ry="10.5" fill="#14e19b"/>
<ellipse cx="1586.0" cy="983.0" rx="12.9" ry="20.0" fill="#0a50dc"/>
<ellipse cx="1613.4" cy="983.0" rx="12.9" ry="20.0" fill="#0a50dc"/>
<rect x="1595.5" y="964.9" width="8.4" height="34.3" fill="#0000cc" opacity="0.55"/>
<ellipse cx="1573.5" cy="991.0" rx="14.9" ry="18.8" fill="#1e96e6"/>
<ellipse cx="1573.5" cy="991.0" rx="11.2" ry="14.8" fill="#1edcdc"/>
<ellipse cx="1573.5" cy="991.0" rx="9.1" ry="12.1" fill="#14e19b"/>
<ellipse cx="1573.5" cy="991.0" rx="7.0" ry="9.3" fill="#28e646"/>
<ellipse cx="1573.5" cy="991.0" rx="3.9" ry="5.0" fill="#96f000"/>
<ellipse cx="1626.0" cy="991.0" rx="14.9" ry="18.8" fill="#1e96e6"/>
<ellipse cx="1626.0" cy="991.0" rx="11.2" ry="14.8" fill="#1edcdc"/>
<ellipse cx="1626.0" cy="991.0" rx="9.1" ry="12.1" fill="#14e19b"/>
<ellipse cx="1626.0" cy="991.0" rx="7.0" ry="9.3" fill="#28e646"/>
<ellipse cx="1626.0" cy="991.0" rx="3.9" ry="5.0" fill="#96f000"/>
</g>
<g filter="url(#fb2)" fill="none" stroke-linecap="butt" stroke-linejoin="round">
<path d="M1578.0 993.4L1575.5 994.2L1574.4 994.5L1573.3 994.8L1572.3 994.6L1571.2 994.3L1570.3 993.8L1569.3 993.3L1568.4 992.8L1567.5 992.3L1566.6 991.7L1565.7 991.2L1564.8 990.5L1563.9 989.8L1563.0 989.1L1562.1 988.3L1561.3 987.5L1560.5 986.7L1559.7 985.8L1558.8 985.0L1558.0 984.2L1557.1 983.4L1556.3 982.7L1555.4 981.9L1554.6 981.2L1553.6 980.6L1552.7 980.1L1551.7 979.6L1550.8 979.2L1549.8 978.8L1548.9 978.6L1547.8 978.6L1546.9 978.7L1546.1 979.6L1545.3 980.4L1544.8 981.4L1544.4 982.5L1544.0 983.5L1543.7 984.6L1543.5 985.8L1543.3 986.9L1543.2 988.1L1543.1 989.2L1543.2 990.4L1543.2 991.6L1543.2 992.7L1543.2 993.9L1543.3 995.0L1543.3 996.2L1543.3 997.4L1543.3 998.5L1543.3 999.7L1543.3 1000.9L1543.3 1002.0L1543.2 1003.2L1543.1 1004.3L1542.9 1005.5L1542.8 1006.6L1542.5 1007.8L1542.2 1008.9L1541.9 1010.0L1540.9 1013.4" stroke="#c81400" stroke-width="12.0"/>
<path d="M1578.0 993.4L1575.5 994.2L1574.4 994.5L1573.3 994.8L1572.3 994.6L1571.2 994.3L1570.3 993.8L1569.3 993.3L1568.4 992.8L1567.5 992.3L1566.6 991.7L1565.7 991.2L1564.8 990.5L1563.9 989.8L1563.0 989.1L1562.1 988.3L1561.3 987.5L1560.5 986.7L1559.7 985.8L1558.8 985.0L1558.0 984.2L1557.1 983.4L1556.3 982.7L1555.4 981.9L1554.6 981.2L1553.6 980.6L1552.7 980.1L1551.7 979.6L1550.8 979.2L1549.8 978.8L1548.9 978.6L1547.8 978.6L1546.9 978.7L1546.1 979.6L1545.3 980.4L1544.8 981.4L1544.4 982.5L1544.0 983.5L1543.7 984.6L1543.5 985.8L1543.3 986.9L1543.2 988.1L1543.1 989.2L1543.2 990.4L1543.2 991.6L1543.2 992.7L1543.2 993.9L1543.3 995.0L1543.3 996.2L1543.3 997.4L1543.3 998.5L1543.3 999.7L1543.3 1000.9L1543.3 1002.0L1543.2 1003.2L1543.1 1004.3L1542.9 1005.5L1542.8 1006.6L1542.5 1007.8L1542.2 1008.9L1541.9 1010.0L1540.9 1013.4" stroke="#f00a00" stroke-width="9.5"/>
<path d="M1573.3 994.8L1572.3 994.6L1571.2 994.3L1570.3 993.8" stroke="#ff8c00" stroke-width="5.0"/>
<path d="M1569.3 993.3L1568.4 992.8L1567.5 992.3L1566.6 991.7L1565.7 991.2L1564.8 990.5L1563.9 989.8L1563.0 989.1L1562.1 988.3L1561.3 987.5L1560.5 986.7L1559.7 985.8L1558.8 985.0L1558.0 984.2L1557.1 983.4L1556.3 982.7" stroke="#f0f000" stroke-width="10.0"/>
<path d="M1568.4 992.8L1567.5 992.3L1566.6 991.7L1565.7 991.2L1564.8 990.5L1563.9 989.8L1563.0 989.1L1562.1 988.3L1561.3 987.5L1560.5 986.7L1559.7 985.8L1558.8 985.0L1558.0 984.2L1557.1 983.4" stroke="#22d228" stroke-width="12.0"/>
<path d="M1550.8 979.2L1549.8 978.8L1548.9 978.6L1547.8 978.6L1546.9 978.7" stroke="#ff8c00" stroke-width="5.0"/>
<path d="M1544.8 981.4L1544.4 982.5L1544.0 983.5L1543.7 984.6L1543.5 985.8" stroke="#f0f000" stroke-width="10.0"/>
<path d="M1543.7 984.6L1543.5 985.8L1543.3 986.9L1543.2 988.1L1543.1 989.2L1543.2 990.4L1543.2 991.6L1543.2 992.7L1543.2 993.9L1543.3 995.0L1543.3 996.2L1543.3 997.4L1543.3 998.5L1543.3 999.7L1543.3 1000.9L1543.3 1002.0L1543.2 1003.2L1543.1 1004.3L1542.9 1005.5L1542.8 1006.6L1542.5 1007.8L1542.2 1008.9L1541.9 1010.0L1540.9 1013.4" stroke="#22d228" stroke-width="12.0"/>
<path d="M1543.2 990.4L1543.2 991.6L1543.2 992.7L1543.2 993.9L1543.3 995.0L1543.3 996.2L1543.3 997.4L1543.3 998.5L1543.3 999.7L1543.3 1000.9" stroke="#96f000" stroke-width="5.0"/>
<path d="M1621.4 993.4L1624.0 994.2L1625.1 994.5L1626.1 994.8L1627.2 994.6L1628.2 994.3L1629.2 993.8L1630.1 993.3L1631.1 992.8L1632.0 992.3L1632.9 991.7L1633.8 991.2L1634.7 990.5L1635.6 989.8L1636.5 989.1L1637.3 988.3L1638.2 987.5L1639.0 986.7L1639.8 985.8L1640.6 985.0L1641.5 984.2L1642.3 983.4L1643.2 982.7L1644.0 981.9L1644.9 981.2L1645.9 980.6L1646.8 980.1L1647.8 979.6L1648.7 979.2L1649.6 978.8L1650.6 978.6L1651.6 978.6L1652.6 978.7L1653.4 979.6L1654.2 980.4L1654.7 981.4L1655.1 982.5L1655.5 983.5L1655.7 984.6L1656.0 985.8L1656.1 986.9L1656.2 988.1L1656.3 989.2L1656.3 990.4L1656.3 991.6L1656.3 992.7L1656.2 993.9L1656.2 995.0L1656.2 996.2L1656.1 997.4L1656.1 998.5L1656.1 999.7L1656.1 1000.9L1656.2 1002.0L1656.3 1003.2L1656.3 1004.3L1656.5 1005.5L1656.7 1006.6L1657.0 1007.8L1657.3 1008.9L1657.6 1010.0L1658.5 1013.4" stroke="#c81400" stroke-width="12.0"/>
<path d="M1621.4 993.4L1624.0 994.2L1625.1 994.5L1626.1 994.8L1627.2 994.6L1628.2 994.3L1629.2 993.8L1630.1 993.3L1631.1 992.8L1632.0 992.3L1632.9 991.7L1633.8 991.2L1634.7 990.5L1635.6 989.8L1636.5 989.1L1637.3 988.3L1638.2 987.5L1639.0 986.7L1639.8 985.8L1640.6 985.0L1641.5 984.2L1642.3 983.4L1643.2 982.7L1644.0 981.9L1644.9 981.2L1645.9 980.6L1646.8 980.1L1647.8 979.6L1648.7 979.2L1649.6 978.8L1650.6 978.6L1651.6 978.6L1652.6 978.7L1653.4 979.6L1654.2 980.4L1654.7 981.4L1655.1 982.5L1655.5 983.5L1655.7 984.6L1656.0 985.8L1656.1 986.9L1656.2 988.1L1656.3 989.2L1656.3 990.4L1656.3 991.6L1656.3 992.7L1656.2 993.9L1656.2 995.0L1656.2 996.2L1656.1 997.4L1656.1 998.5L1656.1 999.7L1656.1 1000.9L1656.2 1002.0L1656.3 1003.2L1656.3 1004.3L1656.5 1005.5L1656.7 1006.6L1657.0 1007.8L1657.3 1008.9L1657.6 1010.0L1658.5 1013.4" stroke="#f00a00" stroke-width="9.5"/>
<path d="M1626.1 994.8L1627.2 994.6L1628.2 994.3L1629.2 993.8" stroke="#ff8c00" stroke-width="5.0"/>
<path d="M1630.1 993.3L1631.1 992.8L1632.0 992.3L1632.9 991.7L1633.8 991.2L1634.7 990.5L1635.6 989.8L1636.5 989.1L1637.3 988.3L1638.2 987.5L1639.0 986.7L1639.8 985.8L1640.6 985.0L1641.5 984.2L1642.3 983.4L1643.2 982.7" stroke="#f0f000" stroke-width="10.0"/>
<path d="M1631.1 992.8L1632.0 992.3L1632.9 991.7L1633.8 991.2L1634.7 990.5L1635.6 989.8L1636.5 989.1L1637.3 988.3L1638.2 987.5L1639.0 986.7L1639.8 985.8L1640.6 985.0L1641.5 984.2L1642.3 983.4" stroke="#22d228" stroke-width="12.0"/>
<path d="M1648.7 979.2L1649.6 978.8L1650.6 978.6L1651.6 978.6L1652.6 978.7" stroke="#ff8c00" stroke-width="5.0"/>
<path d="M1654.7 981.4L1655.1 982.5L1655.5 983.5L1655.7 984.6L1656.0 985.8" stroke="#f0f000" stroke-width="10.0"/>
<path d="M1655.7 984.6L1656.0 985.8L1656.1 986.9L1656.2 988.1L1656.3 989.2L1656.3 990.4L1656.3 991.6L1656.3 992.7L1656.2 993.9L1656.2 995.0L1656.2 996.2L1656.1 997.4L1656.1 998.5L1656.1 999.7L1656.1 1000.9L1656.2 1002.0L1656.3 1003.2L1656.3 1004.3L1656.5 1005.5L1656.7 1006.6L1657.0 1007.8L1657.3 1008.9L1657.6 1010.0L1658.5 1013.4" stroke="#22d228" stroke-width="12.0"/>
<path d="M1656.3 990.4L1656.3 991.6L1656.3 992.7L1656.2 993.9L1656.2 995.0L1656.2 996.2L1656.1 997.4L1656.1 998.5L1656.1 999.7L1656.1 1000.9" stroke="#96f000" stroke-width="5.0"/>
</g>
<path d="M1599.7 932.9V1071.3" stroke="#0a1a90" stroke-width="0.9" opacity="0.8"/>
</g>
</g>
<g id="cbar">
<rect x="1745.5" y="867.2" width="25.2" height="204.0" rx="2" fill="#333"/>
<rect x="1746.5" y="868.60" width="23.2" height="13.63" fill="#c8c8c8"/>
<rect x="1746.5" y="883.03" width="23.2" height="13.63" fill="#f50000"/>
<rect x="1746.5" y="897.46" width="23.2" height="13.63" fill="#ff6a00"/>
<rect x="1746.5" y="911.89" width="23.2" height="13.63" fill="#ffb400"/>
<rect x="1746.5" y="926.31" width="23.2" height="13.63" fill="#f0ff00"/>
<rect x="1746.5" y="940.74" width="23.2" height="13.63" fill="#96f000"/>
<rect x="1746.5" y="955.17" width="23.2" height="13.63" fill="#32e000"/>
<rect x="1746.5" y="969.60" width="23.2" height="13.63" fill="#00e03c"/>
<rect x="1746.5" y="984.03" width="23.2" height="13.63" fill="#00e8a0"/>
<rect x="1746.5" y="998.46" width="23.2" height="13.63" fill="#00f0f0"/>
<rect x="1746.5" y="1012.89" width="23.2" height="13.63" fill="#00a5f0"/>
<rect x="1746.5" y="1027.31" width="23.2" height="13.63" fill="#0050f0"/>
<rect x="1746.5" y="1041.74" width="23.2" height="13.63" fill="#0000e8"/>
<rect x="1746.5" y="1056.17" width="23.2" height="13.63" fill="#333333"/>
<g font-family="'DejaVu Sans', 'Liberation Sans', sans-serif" font-size="15" fill="#5a5a5a">
<text x="1783.2" y="887.5">61</text>
<text x="1783.2" y="902.0">56</text>
<text x="1783.2" y="916.4">51</text>
<text x="1783.2" y="930.8">46</text>
<text x="1783.2" y="945.2">41</text>
<text x="1783.2" y="959.7">36</text>
<text x="1783.2" y="974.1">31</text>
<text x="1783.2" y="988.5">25</text>
<text x="1783.2" y="1003.0">20</text>
<text x="1783.2" y="1017.4">15</text>
<text x="1783.2" y="1031.8">10</text>
<text x="1783.2" y="1046.2">5</text>
<text x="1783.2" y="1060.7">0</text>
</g>
<path d="M1769.7 882.6h6M1769.7 897.1h6M1769.7 911.5h6M1769.7 925.9h6M1769.7 940.3h6M1769.7 954.8h6M1769.7 969.2h6M1769.7 983.6h6M1769.7 998.1h6M1769.7 1012.5h6M1769.7 1026.9h6M1769.7 1041.3h6M1769.7 1055.8h6" stroke="#444" stroke-width="1" fill="none"/>
<text x="1747" y="830.3" font-family="'Liberation Sans', sans-serif" font-size="15.8" fill="#333">S, Mises</text>
<text x="1747" y="852.3" font-family="'Liberation Sans', sans-serif" font-size="15.8" fill="#333">(MPa)</text>
</g>
</svg>
</body></html>
